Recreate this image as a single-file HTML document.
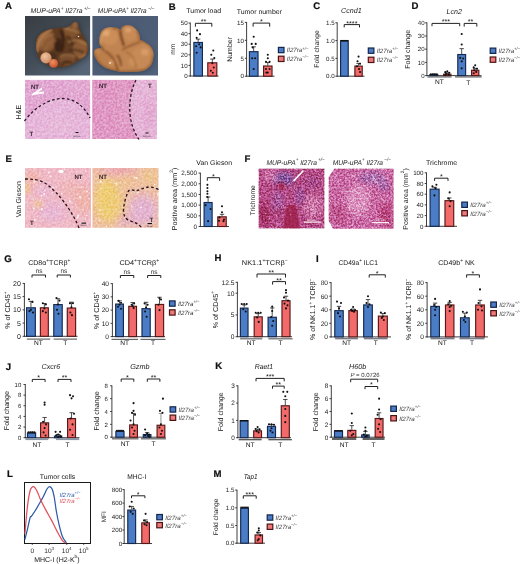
<!DOCTYPE html>
<html><head><meta charset="utf-8"><title>Figure</title>
<style>
html,body{margin:0;padding:0;background:#fff;}
body{width:520px;height:564px;overflow:hidden;}
svg{display:block;}
text{font-family:"Liberation Sans", Arial, Helvetica, sans-serif;text-rendering:geometricPrecision;}
</style></head><body>
<svg width="520" height="564" viewBox="0 0 520 564">
<rect width="520" height="564" fill="#fff"/>

<defs>
<filter id="blur05" x="-10%" y="-10%" width="120%" height="120%"><feGaussianBlur stdDeviation="0.6"/></filter>
<filter id="blur1" x="-20%" y="-20%" width="140%" height="140%"><feGaussianBlur stdDeviation="1.2"/></filter>
<filter id="blur2" x="-30%" y="-30%" width="160%" height="160%"><feGaussianBlur stdDeviation="2.5"/></filter>
<filter id="blur4" x="-50%" y="-50%" width="200%" height="200%"><feGaussianBlur stdDeviation="4"/></filter>
<filter id="speck" x="0" y="0" width="100%" height="100%">
  <feTurbulence type="fractalNoise" baseFrequency="0.45" numOctaves="2" seed="7" result="n"/>
  <feColorMatrix in="n" type="matrix" values="0 0 0 0 1  0 0 0 0 1  0 0 0 0 1  3.2 0 0 0 -1.75"/>
</filter>
<filter id="speck2" x="0" y="0" width="100%" height="100%">
  <feTurbulence type="fractalNoise" baseFrequency="0.28" numOctaves="2" seed="5" result="n"/>
  <feColorMatrix in="n" type="matrix" values="0 0 0 0 1  0 0 0 0 1  0 0 0 0 1  2.6 0 0 0 -1.25"/>
  <feGaussianBlur stdDeviation="0.4"/>
</filter>
<filter id="speckd" x="0" y="0" width="100%" height="100%">
  <feTurbulence type="fractalNoise" baseFrequency="0.5" numOctaves="2" seed="11" result="n"/>
  <feColorMatrix in="n" type="matrix" values="0 0 0 0 0.45  0 0 0 0 0.05  0 0 0 0 0.25  0 3.0 0 0 -1.6"/>
</filter>
<filter id="tex" x="0" y="0" width="100%" height="100%">
  <feTurbulence type="fractalNoise" baseFrequency="0.25" numOctaves="3" seed="4" result="n"/>
  <feColorMatrix in="n" type="matrix" values="0 0 0 0 0  0 0 0 0 0  0 0 0 0 0  0 0 2.0 0 -0.95"/>
</filter>
<filter id="gtex" x="0" y="0" width="100%" height="100%" color-interpolation-filters="sRGB">
  <feTurbulence type="fractalNoise" baseFrequency="0.45" numOctaves="2" seed="2"/>
  <feColorMatrix type="matrix" values="3 0 0 0 -1  3 0 0 0 -1  3 0 0 0 -1  0 0 0 0 1"/>
  <feGaussianBlur stdDeviation="0.3"/>
</filter>
<filter id="gtex2" x="0" y="0" width="100%" height="100%" color-interpolation-filters="sRGB">
  <feTurbulence type="fractalNoise" baseFrequency="0.55" numOctaves="2" seed="8"/>
  <feColorMatrix type="matrix" values="2.4 0 0 0 -0.7  2.4 0 0 0 -0.7  2.4 0 0 0 -0.7  0 0 0 0 1"/>
  <feGaussianBlur stdDeviation="0.45"/>
</filter>
<filter id="gtex3" x="0" y="0" width="100%" height="100%" color-interpolation-filters="sRGB">
  <feTurbulence type="fractalNoise" baseFrequency="0.3" numOctaves="3" seed="12"/>
  <feColorMatrix type="matrix" values="2.5 0 0 0 -0.75  2.5 0 0 0 -0.75  2.5 0 0 0 -0.75  0 0 0 0 1"/>
  <feGaussianBlur stdDeviation="0.4"/>
</filter>
<clipPath id="cA1"><rect x="25" y="16" width="65.2" height="59.6"/></clipPath>
<clipPath id="cA2"><rect x="92.4" y="16" width="65.6" height="59.6"/></clipPath>
<clipPath id="cH1"><rect x="25" y="79.8" width="65.3" height="59.2"/></clipPath>
<clipPath id="cH2"><rect x="92.2" y="79.8" width="64.8" height="59.2"/></clipPath>
<clipPath id="cE1"><rect x="25" y="167.9" width="66" height="59.8"/></clipPath>
<clipPath id="cE2"><rect x="92.4" y="167.9" width="66.1" height="59.8"/></clipPath>
<clipPath id="cF1"><rect x="258.5" y="168.5" width="66" height="60"/></clipPath>
<clipPath id="cF2"><path d="M328.6 177 L334.5 168.6 L393.6 168.6 L393.6 228.8 L333 228.8 L328.6 221 Z"/></clipPath>
<linearGradient id="bg1" x1="0" y1="0" x2="0.8" y2="1"><stop offset="0" stop-color="#393d42"/><stop offset="0.5" stop-color="#424c56"/><stop offset="1" stop-color="#566678"/></linearGradient>
<linearGradient id="bg2" x1="0" y1="0" x2="1" y2="1"><stop offset="0" stop-color="#4a5870"/><stop offset="1" stop-color="#52627c"/></linearGradient>
<radialGradient id="liv1" cx="0.5" cy="0.45" r="0.6"><stop offset="0" stop-color="#7a4a24"/><stop offset="0.8" stop-color="#5e3818"/><stop offset="1" stop-color="#4a2c14"/></radialGradient>
<radialGradient id="liv2" cx="0.45" cy="0.4" r="0.65"><stop offset="0" stop-color="#d9924c"/><stop offset="0.75" stop-color="#c77a38"/><stop offset="1" stop-color="#a85e26"/></radialGradient>
<radialGradient id="nod1" cx="0.4" cy="0.35" r="0.7"><stop offset="0" stop-color="#f0c4a0"/><stop offset="1" stop-color="#c98860"/></radialGradient>
<radialGradient id="nod2" cx="0.4" cy="0.35" r="0.7"><stop offset="0" stop-color="#f09060"/><stop offset="1" stop-color="#c05030"/></radialGradient>
<clipPath id="cL1"><path d="M35.8 45 C36 40 37.5 36 40.2 33.8 C44 31 47 29.6 50.4 29.3 C53 28.4 55 28 56.7 28 C60 27.8 64 27.6 66.9 27.4 C70 25 72.5 22.5 75.1 21.7 C77 21.8 78 23 78.3 24.9 C79.5 27.5 80.5 30 80.8 32.5 C84 36 86.5 40 87.2 43.9 C88.3 46 88.6 47.5 88.5 49 C88 52 86.5 54.5 84.6 56.6 C81.5 59 78.5 61 75.8 62.3 C73 64 70.5 65.5 68.1 66.1 C64.5 67 61 67.4 58 67.4 C52 68 46 65 41 60 C38.5 58 37.5 56 37.7 54.1 C36.3 51 35.7 48 35.8 45 Z"/></clipPath><clipPath id="cL2"><path d="M99.6 43.9 C99 40 99.5 34 101.5 31.2 C103.5 28.5 106 27.6 108.5 27.4 C112 27 115 27.4 117.4 28 C118.8 28.6 119.8 29.2 120.6 30 C121 28.5 121.6 27.5 122.5 26.8 C124 25.8 126 25.1 127.5 25.1 C130 25.2 132.3 26 133.9 27.4 C136.5 29.5 138.3 31.5 139 33.8 C139.8 36 140.2 38 140.2 40.1 C142.5 40.8 144.8 42 146.6 43.3 C148.8 44.5 150.5 46 151.6 47.7 C153 50 153.6 52.6 153.5 55.3 C153.4 58.5 152.8 61.5 151.6 64.2 C150 66.6 147.8 68.6 145.3 69.9 C141.5 71.3 137.5 71.8 133.9 71.8 C129 72 124 72 119.9 71.8 C118 71.5 116.3 71 114.8 70.6 C111 69.8 107.5 68.8 104.7 67.4 C101.5 65.5 99 63 97.1 60.4 C95.5 58 94.3 55.5 93.9 52.8 C94 51 94.8 49.8 95.8 49 C97.5 48.3 100 48.2 102.2 48.4 C101 47 100 45.5 99.6 43.9 Z"/></clipPath></defs>
<g clip-path="url(#cA1)">
<rect x="25" y="16" width="65.5" height="60" fill="url(#bg1)"/>
<path d="M35.8 45 C36 40 37.5 36 40.2 33.8 C44 31 47 29.6 50.4 29.3 C53 28.4 55 28 56.7 28 C60 27.8 64 27.6 66.9 27.4 C70 25 72.5 22.5 75.1 21.7 C77 21.8 78 23 78.3 24.9 C79.5 27.5 80.5 30 80.8 32.5 C84 36 86.5 40 87.2 43.9 C88.3 46 88.6 47.5 88.5 49 C88 52 86.5 54.5 84.6 56.6 C81.5 59 78.5 61 75.8 62.3 C73 64 70.5 65.5 68.1 66.1 C64.5 67 61 67.4 58 67.4 C52 68 46 65 41 60 C38.5 58 37.5 56 37.7 54.1 C36.3 51 35.7 48 35.8 45 Z" fill="#1e1a18" opacity="0.5" filter="url(#blur2)" transform="translate(1 1.5)"/>
<g filter="url(#blur05)"><g clip-path="url(#cL1)">
<rect x="30" y="18" width="62" height="54" fill="#5e3a22"/>
<g filter="url(#blur1)">
<ellipse cx="46" cy="42" rx="9.5" ry="10" fill="#8c5a34"/>
<ellipse cx="71" cy="32" rx="7.5" ry="6.5" fill="#80522e"/>
<ellipse cx="80" cy="49" rx="7.5" ry="8.5" fill="#8a5a36"/>
<ellipse cx="67" cy="60" rx="8" ry="5.5" fill="#7a4e2e"/>
<ellipse cx="58" cy="45" rx="4" ry="7" fill="#3a2414"/>
<ellipse cx="75" cy="25" rx="3" ry="4" fill="#8e6240"/>
<ellipse cx="52" cy="56" rx="5" ry="4" fill="#4a2e1a"/>
</g>
<g filter="url(#blur1)" fill="none">
<path d="M37.5 52 C36.5 42 42 33 52 30" stroke="#b88050" stroke-width="2.4"/>
<path d="M41 46 C42 39 46 35 54 34" stroke="#a87448" stroke-width="1.4"/>
<path d="M45 51 C46 45 50 41 57 41" stroke="#9c6a40" stroke-width="1.2"/>
<path d="M61 30 C64 36 64 44 61 52" stroke="#2a180a" stroke-width="1.8"/>
<path d="M68 42 C74 39 81 40 87 45" stroke="#b4824e" stroke-width="1.7"/>
<path d="M70 51 C74 49 80 50 84 53" stroke="#3a2412" stroke-width="1.3"/>
<path d="M60 57 C64 54 70 54 75 57" stroke="#a87a4c" stroke-width="1.5"/>
<path d="M64 28 C70 30 76 30.5 80 33" stroke="#b08458" stroke-width="1.4"/>
<path d="M62 64 C65 61 68 61 72 63" stroke="#2a180a" stroke-width="1.3"/>
<path d="M67 36 C70 38 72 41 72 45" stroke="#2e1c0e" stroke-width="1.3"/>
<path d="M78 57 C81 58 84 57 86 54" stroke="#b07a48" stroke-width="1.4"/>
</g>
</g></g>
<circle cx="46" cy="57.9" r="5.6" fill="url(#nod1)" filter="url(#blur05)"/>
<circle cx="53.6" cy="63.4" r="4.4" fill="url(#nod2)" filter="url(#blur05)"/>
<circle cx="78.5" cy="36.5" r="0.8" fill="#f4e0c0"/>
</g>
<g clip-path="url(#cA2)">
<rect x="92" y="16" width="66" height="60" fill="url(#bg2)"/>
<path d="M99.6 43.9 C99 40 99.5 34 101.5 31.2 C103.5 28.5 106 27.6 108.5 27.4 C112 27 115 27.4 117.4 28 C118.8 28.6 119.8 29.2 120.6 30 C121 28.5 121.6 27.5 122.5 26.8 C124 25.8 126 25.1 127.5 25.1 C130 25.2 132.3 26 133.9 27.4 C136.5 29.5 138.3 31.5 139 33.8 C139.8 36 140.2 38 140.2 40.1 C142.5 40.8 144.8 42 146.6 43.3 C148.8 44.5 150.5 46 151.6 47.7 C153 50 153.6 52.6 153.5 55.3 C153.4 58.5 152.8 61.5 151.6 64.2 C150 66.6 147.8 68.6 145.3 69.9 C141.5 71.3 137.5 71.8 133.9 71.8 C129 72 124 72 119.9 71.8 C118 71.5 116.3 71 114.8 70.6 C111 69.8 107.5 68.8 104.7 67.4 C101.5 65.5 99 63 97.1 60.4 C95.5 58 94.3 55.5 93.9 52.8 C94 51 94.8 49.8 95.8 49 C97.5 48.3 100 48.2 102.2 48.4 C101 47 100 45.5 99.6 43.9 Z" fill="#283040" opacity="0.5" filter="url(#blur2)" transform="translate(0.5 1.5)"/>
<g filter="url(#blur05)"><g clip-path="url(#cL2)">
<rect x="93" y="20" width="62" height="55" fill="#c08452"/>
<g filter="url(#blur1)">
<ellipse cx="110" cy="37" rx="8" ry="8" fill="#cc8e58"/>
<ellipse cx="130" cy="34" rx="7" ry="7" fill="#c88a56"/>
<ellipse cx="141" cy="58" rx="10" ry="11" fill="#c68a56"/>
<ellipse cx="106" cy="58" rx="9" ry="7" fill="#bc7e4c"/>
<ellipse cx="106" cy="33" rx="3.5" ry="3" fill="#e6ac74" opacity="0.9"/>
<ellipse cx="128" cy="30" rx="3" ry="2.5" fill="#e2a670" opacity="0.8"/>
<ellipse cx="145" cy="52" rx="4" ry="3.5" fill="#dea46e" opacity="0.7"/>
<ellipse cx="112" cy="62" rx="3" ry="2.5" fill="#dca06a" opacity="0.7"/>
<ellipse cx="133" cy="62" rx="5" ry="4" fill="#d09860" opacity="0.6"/>
</g>
<path d="M99.6 43.9 C99 40 99.5 34 101.5 31.2 C103.5 28.5 106 27.6 108.5 27.4 C112 27 115 27.4 117.4 28 C118.8 28.6 119.8 29.2 120.6 30 C121 28.5 121.6 27.5 122.5 26.8 C124 25.8 126 25.1 127.5 25.1 C130 25.2 132.3 26 133.9 27.4 C136.5 29.5 138.3 31.5 139 33.8 C139.8 36 140.2 38 140.2 40.1 C142.5 40.8 144.8 42 146.6 43.3 C148.8 44.5 150.5 46 151.6 47.7 C153 50 153.6 52.6 153.5 55.3 C153.4 58.5 152.8 61.5 151.6 64.2 C150 66.6 147.8 68.6 145.3 69.9 C141.5 71.3 137.5 71.8 133.9 71.8 C129 72 124 72 119.9 71.8 C118 71.5 116.3 71 114.8 70.6 C111 69.8 107.5 68.8 104.7 67.4 C101.5 65.5 99 63 97.1 60.4 C95.5 58 94.3 55.5 93.9 52.8 C94 51 94.8 49.8 95.8 49 C97.5 48.3 100 48.2 102.2 48.4 C101 47 100 45.5 99.6 43.9 Z" fill="none" stroke="#8a5630" stroke-width="2.4" opacity="0.8" filter="url(#blur1)"/>
<g filter="url(#blur1)" fill="none">
<path d="M101 44 C100 36 104 29 112 28" stroke="#e0aa78" stroke-width="1.6"/>
<path d="M123 29 C127 26 133 27 137 31" stroke="#d8a272" stroke-width="1.4"/>
<path d="M95 52 C98 49 102 49 106 50" stroke="#d49c6c" stroke-width="1.3"/>
<path d="M142 44 C148 46 152 50 153 56" stroke="#d09a6a" stroke-width="1.2"/>
<path d="M120 31 C121 36 122 41 124 46" stroke="#5e2e12" stroke-width="1.6"/>
<path d="M101 48.5 C106 51 111 55 114 60 C116 64 117 68 118 71" stroke="#6e3a18" stroke-width="1.3"/>
<path d="M122 50 C128 46 134 44 140 42" stroke="#7e4420" stroke-width="1.2"/>
<path d="M117 55 C120 58 121 62 121 66" stroke="#5e2e12" stroke-width="1.2"/>
<path d="M126 52 C132 54 136 60 136 68" stroke="#9a5a2c" stroke-width="1.0"/>
</g>
</g></g>
<circle cx="110" cy="63" r="0.9" fill="#f8e4c8"/>
</g>
<g clip-path="url(#cH1)">
<rect x="25" y="79.5" width="65.5" height="60" fill="#e2a8d2"/>
<path d="M25 121 C34 108 48 99 62 98.5 C74 98 84 106 90 118 V139 H25 Z" fill="#e6b6da"/>
<g filter="url(#blur4)"><ellipse cx="60" cy="125" rx="14" ry="8" fill="#e8bcd8" opacity="0.7"/><ellipse cx="80" cy="88" rx="10" ry="6" fill="#e6b0d4" opacity="0.6"/></g>
<rect x="25" y="80" width="65" height="59" filter="url(#gtex)" style="mix-blend-mode:overlay" opacity="0.2"/>
<g fill="#fff" opacity="0.3"><circle cx="33.73" cy="130" r="0.53"/><circle cx="41.58" cy="109.23" r="0.43"/><circle cx="67.35" cy="126.53" r="0.33"/><circle cx="26.84" cy="129.31" r="0.43"/><circle cx="74.55" cy="80.12" r="0.43"/><circle cx="71.9" cy="93.5" r="0.58"/><circle cx="83.59" cy="81.8" r="0.31"/><circle cx="60.19" cy="135.41" r="0.41"/><circle cx="39.08" cy="104.9" r="0.31"/><circle cx="39.41" cy="105.84" r="0.45"/><circle cx="40.15" cy="93.62" r="0.37"/><circle cx="54.87" cy="97.1" r="0.31"/><circle cx="79.44" cy="112.83" r="0.49"/><circle cx="37.08" cy="138.56" r="0.56"/><circle cx="32.86" cy="99.63" r="0.52"/><circle cx="71.23" cy="135.25" r="0.43"/><circle cx="78.95" cy="119.55" r="0.39"/><circle cx="63.19" cy="132.07" r="0.55"/><circle cx="57.84" cy="114.75" r="0.31"/><circle cx="40.78" cy="127.05" r="0.42"/><circle cx="36.25" cy="112.38" r="0.51"/><circle cx="68.84" cy="102.11" r="0.43"/><circle cx="58.05" cy="125.93" r="0.46"/><circle cx="50.56" cy="108.89" r="0.31"/><circle cx="27.83" cy="121.5" r="0.59"/><circle cx="63.56" cy="103.22" r="0.35"/><circle cx="57.65" cy="137.94" r="0.53"/><circle cx="60.08" cy="130.76" r="0.37"/><circle cx="58.4" cy="136.2" r="0.47"/><circle cx="54.84" cy="95.89" r="0.46"/><circle cx="87.21" cy="80.34" r="0.54"/><circle cx="78.33" cy="132.28" r="0.52"/><circle cx="77.59" cy="110.6" r="0.47"/><circle cx="52.7" cy="83.31" r="0.56"/><circle cx="62.05" cy="91.79" r="0.45"/><circle cx="56.52" cy="101.05" r="0.4"/><circle cx="60" cy="116.79" r="0.48"/><circle cx="54.78" cy="81.65" r="0.37"/><circle cx="36.52" cy="114.48" r="0.56"/><circle cx="76.9" cy="127.03" r="0.54"/><circle cx="41.59" cy="129.66" r="0.5"/><circle cx="30.41" cy="80.98" r="0.3"/><circle cx="74.11" cy="94.72" r="0.33"/><circle cx="65.61" cy="100.32" r="0.32"/><circle cx="35.38" cy="111.12" r="0.35"/><circle cx="42.74" cy="121.98" r="0.44"/><circle cx="45.93" cy="107.95" r="0.31"/><circle cx="50.13" cy="104.83" r="0.36"/><circle cx="32.07" cy="133.09" r="0.45"/><circle cx="38.59" cy="115.73" r="0.55"/></g>
<path d="M32 95 L42 88.5 M33.5 94 L44 92.5" stroke="#fff" stroke-width="1.8" opacity="0.95"/>
</g>
<path d="M24.5 121 C34 108 48 99 62 98.5 C74 98 84 106 90 118" fill="none" stroke="#2a1624" stroke-width="1.3" stroke-dasharray="2.7 2.3"/>
<text x="31" y="88.8" font-size="6" text-anchor="start" fill="#241420" stroke="#241420" stroke-width="0.2">NT</text>
<text x="29.5" y="135.5" font-size="6" text-anchor="start" fill="#241420" stroke="#241420" stroke-width="0.2">T</text>
<path d="M75.5 132.5 h3" stroke="#111" stroke-width="1"/>
<text x="77" y="136.5" font-size="2.2" text-anchor="middle" fill="#222">100 µm</text>
<g clip-path="url(#cH2)">
<rect x="92" y="79.5" width="65" height="60" fill="#e098c4"/>
<path d="M136 80 C131 90 129 102 130 114 C131 124 134 132 139 139 H157 V80 Z" fill="#e6b6d8"/>
<g filter="url(#blur4)"><ellipse cx="125" cy="110" rx="6" ry="22" fill="#e2a6cc" opacity="0.6"/><ellipse cx="149" cy="115" rx="3" ry="16" fill="#dc96c4" opacity="0.7"/></g>
<rect x="93" y="80" width="64" height="59" filter="url(#gtex)" style="mix-blend-mode:overlay" opacity="0.2"/>
<g fill="#fff" opacity="0.3"><circle cx="154.19" cy="135.92" r="0.32"/><circle cx="98.43" cy="129.29" r="0.52"/><circle cx="135.86" cy="98.18" r="0.48"/><circle cx="131.84" cy="114.29" r="0.35"/><circle cx="120.56" cy="103.22" r="0.52"/><circle cx="156.67" cy="136.01" r="0.46"/><circle cx="121.47" cy="95.83" r="0.31"/><circle cx="94.76" cy="107.43" r="0.4"/><circle cx="117.32" cy="132.62" r="0.46"/><circle cx="128.87" cy="93.93" r="0.31"/><circle cx="113.81" cy="88.07" r="0.45"/><circle cx="156.92" cy="119.79" r="0.35"/><circle cx="150.19" cy="127.01" r="0.52"/><circle cx="151.02" cy="125.01" r="0.54"/><circle cx="115.64" cy="137.88" r="0.59"/><circle cx="103.32" cy="124.49" r="0.51"/><circle cx="122.53" cy="111.29" r="0.45"/><circle cx="152.19" cy="109.55" r="0.55"/><circle cx="115.65" cy="132.09" r="0.57"/><circle cx="122.5" cy="113.49" r="0.58"/><circle cx="139.32" cy="108.71" r="0.37"/><circle cx="113.78" cy="121.27" r="0.35"/><circle cx="151.11" cy="95.82" r="0.57"/><circle cx="112.81" cy="136.48" r="0.51"/><circle cx="125.27" cy="110.55" r="0.5"/><circle cx="130.63" cy="98.4" r="0.36"/><circle cx="125.76" cy="135.12" r="0.49"/><circle cx="97.82" cy="128.4" r="0.52"/><circle cx="151.09" cy="91.29" r="0.52"/><circle cx="96.76" cy="118.52" r="0.38"/><circle cx="107.5" cy="131.65" r="0.33"/><circle cx="126.43" cy="130.38" r="0.37"/><circle cx="106.47" cy="131.95" r="0.43"/><circle cx="138.89" cy="81.88" r="0.41"/><circle cx="104" cy="119.69" r="0.32"/><circle cx="154.09" cy="81.5" r="0.52"/><circle cx="94.35" cy="95.09" r="0.54"/><circle cx="103.06" cy="90.84" r="0.51"/><circle cx="117.68" cy="82.55" r="0.6"/><circle cx="102.69" cy="82.14" r="0.4"/></g>
</g>
<path d="M136 80 C131 90 129 102 130 114 C131 124 134 132 139 139.5" fill="none" stroke="#2a1624" stroke-width="1.3" stroke-dasharray="2.7 2.3"/>
<text x="99" y="88.2" font-size="6" text-anchor="start" fill="#241420" stroke="#241420" stroke-width="0.2">NT</text>
<text x="148" y="88.2" font-size="6" text-anchor="start" fill="#241420" stroke="#241420" stroke-width="0.2">T</text>
<path d="M145.5 133 h3" stroke="#111" stroke-width="1"/>
<text x="147" y="137" font-size="2.2" text-anchor="middle" fill="#222">100 µm</text>
<g clip-path="url(#cE1)">
<rect x="25" y="167.5" width="66.5" height="60.5" fill="#f0bac6"/>
<g filter="url(#blur4)">
<ellipse cx="32" cy="178" rx="8" ry="6" fill="#f0b090" opacity="0.7"/>
<ellipse cx="84" cy="200" rx="7" ry="14" fill="#f0b098" opacity="0.7"/>
<ellipse cx="70" cy="190" rx="8" ry="8" fill="#eeb0a0" opacity="0.5"/>
<ellipse cx="52" cy="212" rx="14" ry="10" fill="#e0b4e0" opacity="0.5"/>
<ellipse cx="44" cy="190" rx="8" ry="7" fill="#e0b4e0" opacity="0.45"/>
</g>
<g filter="url(#blur2)">
<ellipse cx="38" cy="204" rx="5" ry="3.5" fill="#f2d080" opacity="0.6"/>
<ellipse cx="26.5" cy="189" rx="2.5" ry="5" fill="#f2c870" opacity="0.9"/>
</g>
<rect x="25" y="168.4" width="65" height="59.3" filter="url(#gtex)" style="mix-blend-mode:overlay" opacity="0.2"/>
<g fill="#fff" opacity="0.55"><circle cx="40.47" cy="200.67" r="0.46"/><circle cx="64.25" cy="205.51" r="0.37"/><circle cx="25.86" cy="218.06" r="0.43"/><circle cx="40.23" cy="227.44" r="0.49"/><circle cx="79.37" cy="196.65" r="0.54"/><circle cx="34.79" cy="206.05" r="0.61"/><circle cx="59.01" cy="212.36" r="0.55"/><circle cx="29.16" cy="213.36" r="0.53"/><circle cx="44.58" cy="170.24" r="0.61"/><circle cx="55.73" cy="211.03" r="0.61"/><circle cx="71.42" cy="223.02" r="0.47"/><circle cx="77.06" cy="194.77" r="0.63"/><circle cx="82.13" cy="174.18" r="0.39"/><circle cx="39.1" cy="225.65" r="0.48"/><circle cx="65.73" cy="186.25" r="0.5"/><circle cx="50.08" cy="189.21" r="0.53"/><circle cx="62.98" cy="222.02" r="0.55"/><circle cx="85.38" cy="219.18" r="0.65"/><circle cx="68.63" cy="178.07" r="0.61"/><circle cx="87.7" cy="222.05" r="0.52"/><circle cx="71.4" cy="180.92" r="0.6"/><circle cx="62.28" cy="185.3" r="0.37"/><circle cx="80.51" cy="227.1" r="0.38"/><circle cx="77.04" cy="192.74" r="0.4"/><circle cx="44.1" cy="213.99" r="0.61"/><circle cx="27.87" cy="204.84" r="0.36"/><circle cx="71.7" cy="188.03" r="0.61"/><circle cx="88.74" cy="198.37" r="0.65"/><circle cx="45.13" cy="172.96" r="0.53"/><circle cx="27.04" cy="180.1" r="0.47"/><circle cx="64.68" cy="177.66" r="0.36"/><circle cx="81.41" cy="187.01" r="0.64"/><circle cx="83.28" cy="190.8" r="0.49"/><circle cx="58.8" cy="206.58" r="0.53"/><circle cx="61.35" cy="205.17" r="0.63"/><circle cx="57.96" cy="193.97" r="0.57"/><circle cx="40.45" cy="186.25" r="0.64"/><circle cx="58.87" cy="200.92" r="0.35"/><circle cx="51.99" cy="202.79" r="0.36"/><circle cx="65.03" cy="205.89" r="0.37"/><circle cx="65.78" cy="196.05" r="0.55"/><circle cx="47.92" cy="210.32" r="0.57"/><circle cx="26.44" cy="171.99" r="0.55"/><circle cx="87.61" cy="183.29" r="0.49"/><circle cx="63.52" cy="187.38" r="0.46"/><circle cx="45.32" cy="190.29" r="0.53"/><circle cx="44.53" cy="190.77" r="0.58"/><circle cx="26.75" cy="202.16" r="0.57"/><circle cx="45.15" cy="181.6" r="0.59"/><circle cx="40.52" cy="179.51" r="0.48"/><circle cx="70.37" cy="174.44" r="0.45"/><circle cx="46.69" cy="217.83" r="0.48"/><circle cx="80.61" cy="178.44" r="0.45"/><circle cx="67.27" cy="220.87" r="0.49"/><circle cx="39.63" cy="175.57" r="0.51"/><circle cx="37.4" cy="216.24" r="0.6"/><circle cx="36.93" cy="184.92" r="0.59"/><circle cx="66.73" cy="216.21" r="0.45"/><circle cx="33.43" cy="185.71" r="0.59"/><circle cx="42.63" cy="188.94" r="0.48"/><circle cx="52.29" cy="192.68" r="0.63"/><circle cx="35.14" cy="168.68" r="0.63"/><circle cx="82.2" cy="226.92" r="0.48"/><circle cx="86.76" cy="223.39" r="0.42"/><circle cx="73.46" cy="218.02" r="0.55"/><circle cx="58.74" cy="185.54" r="0.45"/><circle cx="39.79" cy="172.44" r="0.53"/><circle cx="43.66" cy="216.44" r="0.36"/><circle cx="83.73" cy="209.54" r="0.63"/><circle cx="83.28" cy="221.75" r="0.52"/></g>
<g fill="#fff" opacity="0.85"><circle cx="41.84" cy="209.04" r="0.94"/><circle cx="80.21" cy="179.41" r="0.72"/><circle cx="34.57" cy="181.75" r="0.97"/><circle cx="33.46" cy="199.91" r="0.71"/><circle cx="44.15" cy="193.99" r="1.02"/><circle cx="64.55" cy="169.26" r="0.74"/><circle cx="34.54" cy="220.07" r="1"/><circle cx="77.39" cy="217.4" r="0.97"/><circle cx="86.71" cy="215.47" r="0.73"/><circle cx="80.25" cy="197.27" r="0.98"/><circle cx="61.67" cy="193.87" r="0.78"/><circle cx="52.94" cy="187.01" r="0.66"/><circle cx="78.28" cy="215.74" r="1.09"/><circle cx="69.91" cy="201.27" r="0.97"/><circle cx="33.77" cy="208.54" r="0.82"/><circle cx="36.48" cy="180.42" r="0.86"/><circle cx="41.47" cy="195.65" r="0.9"/><circle cx="50.72" cy="176.16" r="0.85"/><circle cx="40.3" cy="182.38" r="0.7"/><circle cx="48.82" cy="172.75" r="0.93"/><circle cx="86.99" cy="191.51" r="0.96"/><circle cx="85.64" cy="170.96" r="0.67"/></g>
<ellipse cx="61" cy="171.5" rx="2.6" ry="1.7" fill="#fff"/>
</g>
<path d="M25 179 C33 179 40 180 45 183 C52 188 58 194 64 202 C70 210 75 218 79 228" fill="none" stroke="#2a1420" stroke-width="1.35" stroke-dasharray="2.7 2.3"/>
<text x="74.5" y="178.6" font-size="6" text-anchor="start" fill="#241420" stroke="#241420" stroke-width="0.2">NT</text>
<text x="30" y="224.5" font-size="6" text-anchor="start" fill="#241420" stroke="#241420" stroke-width="0.2">T</text>
<rect x="81.5" y="222.6" width="4.5" height="1.1" fill="#111"/>
<text x="83.5" y="226.3" font-size="2.2" text-anchor="middle" fill="#222">50 µm</text>
<g clip-path="url(#cE2)">
<rect x="92" y="167.5" width="67" height="60.5" fill="#eec0a4"/>
<g filter="url(#blur4)">
<ellipse cx="107" cy="200" rx="12" ry="22" fill="#f0d070" opacity="0.9"/>
<ellipse cx="114" cy="205" rx="10" ry="18" fill="#f0cc78" opacity="0.7"/>
<ellipse cx="126" cy="180" rx="8" ry="6" fill="#eec880" opacity="0.6"/>
<ellipse cx="118" cy="170" rx="20" ry="5" fill="#eca2b8" opacity="0.85"/>
<ellipse cx="150" cy="177" rx="9" ry="7" fill="#eec888" opacity="0.8"/>
<ellipse cx="143" cy="210" rx="15" ry="16" fill="#e2b2d8" opacity="0.85"/>
<ellipse cx="125" cy="222" rx="8" ry="6" fill="#e0aad0" opacity="0.7"/>
</g>
<rect x="93" y="168.4" width="65.5" height="59.3" filter="url(#gtex)" style="mix-blend-mode:overlay" opacity="0.2"/>
<g fill="#fff" opacity="0.55"><circle cx="108.46" cy="174.52" r="0.47"/><circle cx="103.15" cy="172.34" r="0.47"/><circle cx="153.13" cy="215.87" r="0.58"/><circle cx="107.54" cy="200.23" r="0.43"/><circle cx="104.31" cy="174.7" r="0.41"/><circle cx="153.75" cy="217.55" r="0.59"/><circle cx="145.43" cy="179.87" r="0.44"/><circle cx="134.07" cy="211.8" r="0.61"/><circle cx="150.64" cy="173.54" r="0.53"/><circle cx="137" cy="198.4" r="0.4"/><circle cx="124.02" cy="173.7" r="0.63"/><circle cx="149.69" cy="200.87" r="0.44"/><circle cx="152.53" cy="202.34" r="0.61"/><circle cx="148.55" cy="198.55" r="0.47"/><circle cx="132.23" cy="193.96" r="0.4"/><circle cx="112.98" cy="216.59" r="0.36"/><circle cx="96.03" cy="205.54" r="0.43"/><circle cx="128.02" cy="196.34" r="0.45"/><circle cx="158.32" cy="180" r="0.47"/><circle cx="106.27" cy="205.92" r="0.43"/><circle cx="116.31" cy="212.69" r="0.45"/><circle cx="129.58" cy="222.03" r="0.38"/><circle cx="97.04" cy="181.97" r="0.58"/><circle cx="133.31" cy="182.48" r="0.45"/><circle cx="104.63" cy="195.62" r="0.36"/><circle cx="138.67" cy="221.53" r="0.64"/><circle cx="141.13" cy="225.32" r="0.36"/><circle cx="111.93" cy="225.68" r="0.58"/><circle cx="119.88" cy="224.34" r="0.54"/><circle cx="146.57" cy="185.8" r="0.41"/><circle cx="122.09" cy="176.49" r="0.46"/><circle cx="156" cy="188.05" r="0.35"/><circle cx="95.93" cy="178.46" r="0.59"/><circle cx="116.76" cy="185.62" r="0.38"/><circle cx="157.3" cy="193.54" r="0.41"/><circle cx="96.89" cy="171.68" r="0.4"/><circle cx="137.33" cy="177.27" r="0.36"/><circle cx="125.14" cy="183.17" r="0.65"/><circle cx="101.01" cy="199.78" r="0.58"/><circle cx="119.81" cy="226.97" r="0.49"/><circle cx="108.84" cy="192.75" r="0.36"/><circle cx="120.59" cy="183.14" r="0.62"/><circle cx="147.43" cy="197.97" r="0.36"/><circle cx="109.66" cy="182.77" r="0.41"/><circle cx="108.16" cy="219.97" r="0.39"/><circle cx="96.36" cy="223.43" r="0.52"/><circle cx="157.88" cy="192.3" r="0.62"/><circle cx="135.84" cy="215.3" r="0.57"/><circle cx="125.38" cy="173.91" r="0.41"/><circle cx="150.23" cy="221.76" r="0.63"/></g>
<g fill="#fff" opacity="0.85"><circle cx="100" cy="210.06" r="0.93"/><circle cx="154.59" cy="184.48" r="0.73"/><circle cx="141.08" cy="207.45" r="0.75"/><circle cx="137.82" cy="191.92" r="0.99"/><circle cx="100.76" cy="181.64" r="1.05"/><circle cx="116.45" cy="183.84" r="1"/><circle cx="134.37" cy="177.28" r="0.88"/><circle cx="136.49" cy="178.18" r="0.93"/><circle cx="101.06" cy="188.39" r="0.64"/><circle cx="106.39" cy="226.4" r="0.8"/><circle cx="157.87" cy="194.41" r="0.9"/><circle cx="150.15" cy="209.13" r="0.66"/><circle cx="131.59" cy="205.98" r="0.69"/><circle cx="99.2" cy="220.28" r="0.86"/></g>
</g>
<path d="M158.5 189.5 C154 187 149 186.5 146 187.5 C142 188.5 139 190 136 191 C133 190 130 189 128.5 191 C126 196 124 203 123.5 210 C123.5 215 125 218 128 220 C133 222 138 223 142 228" fill="none" stroke="#2a1420" stroke-width="1.35" stroke-dasharray="2.7 2.3"/>
<text x="99" y="178.6" font-size="6" text-anchor="start" fill="#241420" stroke="#241420" stroke-width="0.2">NT</text>
<text x="149.5" y="222" font-size="6" text-anchor="start" fill="#241420" stroke="#241420" stroke-width="0.2">T</text>
<rect x="147.5" y="223" width="4.5" height="1.1" fill="#111"/>
<text x="149.8" y="226.6" font-size="2.2" text-anchor="middle" fill="#222">50 µm</text>
<g clip-path="url(#cF1)">
<rect x="258.5" y="168.5" width="66" height="60" fill="#b44c86"/>
<g filter="url(#blur2)">
<ellipse cx="283" cy="179" rx="11" ry="7" fill="#7c5ca8" opacity="0.8"/>
<ellipse cx="300" cy="196" rx="5" ry="9" fill="#8a5aa8" opacity="0.5"/>
<ellipse cx="278" cy="202" rx="5" ry="12" fill="#9c66b0" opacity="0.55"/>
<ellipse cx="279" cy="212" rx="3" ry="4" fill="#9a2048" opacity="0.7"/>
<ellipse cx="281" cy="186" rx="4" ry="4" fill="#a82850" opacity="0.8"/>
<ellipse cx="313" cy="206" rx="9" ry="12" fill="#dc94c0" opacity="0.6"/>
<ellipse cx="265" cy="214" rx="5" ry="12" fill="#9c2456" opacity="0.8"/>
<ellipse cx="312" cy="182" rx="8" ry="6" fill="#9c4c90" opacity="0.55"/>
<ellipse cx="270" cy="176" rx="8" ry="6" fill="#dc8cbc" opacity="0.6"/>
</g>
<rect x="258.5" y="168.5" width="66" height="60" filter="url(#gtex2)" style="mix-blend-mode:overlay" opacity="0.48"/>
<path d="M286.5 207 C289 204 294 204 296.5 207 L300 229 L283 229 Z" fill="#9c1c44" opacity="0.75" filter="url(#blur05)"/>
<ellipse cx="281.5" cy="186" rx="3" ry="3" fill="#a02048" opacity="0.6" filter="url(#blur05)"/>
<g fill="#f4d4e8" opacity="0.6"><circle cx="299.61" cy="213.01" r="0.62"/><circle cx="320.7" cy="212.89" r="0.67"/><circle cx="260.41" cy="196.44" r="0.68"/><circle cx="301.33" cy="222.55" r="0.35"/><circle cx="289.46" cy="183.29" r="0.52"/><circle cx="296.38" cy="169.29" r="0.39"/><circle cx="276.95" cy="223.48" r="0.61"/><circle cx="269.03" cy="216.33" r="0.36"/><circle cx="299.25" cy="176.1" r="0.3"/><circle cx="316.01" cy="181.07" r="0.39"/><circle cx="323.34" cy="220.84" r="0.42"/><circle cx="321.96" cy="200.85" r="0.57"/><circle cx="272.02" cy="224.96" r="0.58"/><circle cx="322.29" cy="222.12" r="0.42"/><circle cx="282.34" cy="178.46" r="0.36"/><circle cx="262.8" cy="186.58" r="0.54"/><circle cx="258.72" cy="209.18" r="0.44"/><circle cx="278.96" cy="217.61" r="0.49"/><circle cx="279.34" cy="197.37" r="0.58"/><circle cx="262.26" cy="227.01" r="0.31"/><circle cx="307.99" cy="219.19" r="0.31"/><circle cx="310.49" cy="190.47" r="0.53"/><circle cx="259.1" cy="171.3" r="0.37"/><circle cx="321.54" cy="180.29" r="0.6"/><circle cx="319.86" cy="225.02" r="0.44"/><circle cx="281.92" cy="199.98" r="0.61"/><circle cx="265.63" cy="213.4" r="0.62"/><circle cx="315.24" cy="170.7" r="0.68"/><circle cx="264.52" cy="188.94" r="0.54"/><circle cx="319.09" cy="188.9" r="0.67"/><circle cx="294.48" cy="187.25" r="0.43"/><circle cx="270.21" cy="173.19" r="0.36"/><circle cx="303.99" cy="228.3" r="0.36"/><circle cx="261.7" cy="227.7" r="0.51"/><circle cx="285.29" cy="182.74" r="0.54"/><circle cx="313.04" cy="195.84" r="0.47"/><circle cx="262.18" cy="223.46" r="0.31"/><circle cx="291.08" cy="218.81" r="0.35"/><circle cx="306.79" cy="225.49" r="0.55"/><circle cx="310.51" cy="174.9" r="0.47"/><circle cx="268.35" cy="219.18" r="0.42"/><circle cx="288.41" cy="228.46" r="0.64"/><circle cx="322.92" cy="195.71" r="0.5"/><circle cx="306.65" cy="197.24" r="0.42"/><circle cx="285.15" cy="177.29" r="0.45"/><circle cx="323.73" cy="226.09" r="0.55"/><circle cx="291.46" cy="188.81" r="0.34"/><circle cx="276.47" cy="215.42" r="0.65"/><circle cx="282.35" cy="215.66" r="0.61"/><circle cx="304.34" cy="208.34" r="0.6"/><circle cx="282.49" cy="210.77" r="0.41"/><circle cx="290.56" cy="214.68" r="0.58"/><circle cx="277.89" cy="225.23" r="0.56"/><circle cx="296.82" cy="169.19" r="0.52"/><circle cx="275.05" cy="208.8" r="0.49"/><circle cx="312.4" cy="207.35" r="0.62"/><circle cx="281.46" cy="207.14" r="0.6"/><circle cx="313.16" cy="189.5" r="0.64"/><circle cx="315.91" cy="209.8" r="0.69"/><circle cx="321.63" cy="199.59" r="0.51"/><circle cx="269.47" cy="218.7" r="0.67"/><circle cx="290" cy="209.99" r="0.59"/><circle cx="306.7" cy="178.81" r="0.61"/><circle cx="296.84" cy="208.43" r="0.47"/><circle cx="299.67" cy="214.98" r="0.55"/><circle cx="306.05" cy="170.16" r="0.36"/><circle cx="287.61" cy="207.51" r="0.39"/><circle cx="303.77" cy="206.35" r="0.32"/><circle cx="289.62" cy="182.07" r="0.32"/><circle cx="267.31" cy="187.54" r="0.37"/><circle cx="271.26" cy="170.64" r="0.49"/><circle cx="283.6" cy="205.21" r="0.54"/><circle cx="274.2" cy="222.69" r="0.3"/><circle cx="285.25" cy="185.21" r="0.46"/><circle cx="266.09" cy="218.38" r="0.45"/><circle cx="260.88" cy="205.31" r="0.34"/><circle cx="294.48" cy="188.86" r="0.53"/><circle cx="321.75" cy="217.61" r="0.47"/><circle cx="312.16" cy="207.04" r="0.45"/><circle cx="267.88" cy="204.26" r="0.53"/><circle cx="321.68" cy="226.58" r="0.54"/><circle cx="281.67" cy="222.11" r="0.3"/><circle cx="265.62" cy="202.45" r="0.55"/><circle cx="267.79" cy="206.27" r="0.66"/><circle cx="283.31" cy="194.4" r="0.39"/><circle cx="277.74" cy="226.85" r="0.45"/><circle cx="321.94" cy="223.32" r="0.54"/><circle cx="275.65" cy="227.36" r="0.5"/><circle cx="285.92" cy="187.65" r="0.69"/><circle cx="290.96" cy="185.68" r="0.49"/></g>
<path d="M293.5 181 L303.5 170.5" stroke="#fff" stroke-width="1.5"/>
</g>
<rect x="304" y="221.5" width="17" height="1.2" fill="#fff" opacity="0.9"/>
<text x="311" y="220.5" font-size="2.6" text-anchor="middle" fill="#fff">100 µm</text>
<g clip-path="url(#cF2)">
<rect x="328.5" y="168.5" width="65.7" height="60.5" fill="#c868a2"/>
<g filter="url(#blur2)">
<ellipse cx="358" cy="200" rx="12" ry="16" fill="#e0a0c8" opacity="0.7"/>
<ellipse cx="386" cy="215" rx="8" ry="12" fill="#b43c74" opacity="0.7"/>
<ellipse cx="338" cy="214" rx="8" ry="10" fill="#b4447a" opacity="0.6"/>
<ellipse cx="372" cy="178" rx="14" ry="6" fill="#9070b4" opacity="0.5"/>
<ellipse cx="384" cy="186" rx="5" ry="5" fill="#8068b0" opacity="0.5"/>
</g>
<rect x="328.5" y="168.5" width="65.7" height="60.5" filter="url(#gtex2)" style="mix-blend-mode:overlay" opacity="0.48"/>
<g fill="#f6dcec" opacity="0.7"><circle cx="380.62" cy="218.23" r="0.52"/><circle cx="345.69" cy="168.53" r="0.6"/><circle cx="359.4" cy="214.46" r="0.47"/><circle cx="379.1" cy="185" r="0.66"/><circle cx="376.45" cy="193.55" r="0.54"/><circle cx="373.31" cy="180.18" r="0.55"/><circle cx="381.4" cy="184.56" r="0.66"/><circle cx="373.55" cy="219.58" r="0.45"/><circle cx="334.62" cy="216.92" r="0.66"/><circle cx="357.75" cy="174.17" r="0.39"/><circle cx="370.21" cy="186.12" r="0.73"/><circle cx="367.17" cy="180.65" r="0.59"/><circle cx="352.18" cy="224.93" r="0.71"/><circle cx="362.31" cy="207.5" r="0.61"/><circle cx="381.42" cy="227.57" r="0.31"/><circle cx="352.24" cy="204.91" r="0.44"/><circle cx="367.21" cy="173.93" r="0.7"/><circle cx="363.01" cy="175.57" r="0.6"/><circle cx="349.02" cy="180.37" r="0.52"/><circle cx="337.57" cy="181.2" r="0.69"/><circle cx="374.37" cy="169.26" r="0.65"/><circle cx="329.62" cy="188.64" r="0.71"/><circle cx="369.25" cy="187.02" r="0.47"/><circle cx="354.07" cy="176.17" r="0.75"/><circle cx="332.04" cy="194.08" r="0.64"/><circle cx="354.63" cy="227.85" r="0.41"/><circle cx="392.84" cy="222.48" r="0.6"/><circle cx="386.94" cy="195.56" r="0.67"/><circle cx="380.8" cy="199.76" r="0.51"/><circle cx="374.86" cy="193.25" r="0.34"/><circle cx="377.55" cy="184.58" r="0.52"/><circle cx="380.01" cy="178.91" r="0.31"/><circle cx="336.61" cy="204.16" r="0.46"/><circle cx="345.34" cy="195.82" r="0.72"/><circle cx="345.24" cy="193.34" r="0.7"/><circle cx="368.72" cy="184.71" r="0.51"/><circle cx="359.94" cy="177.1" r="0.47"/><circle cx="348.58" cy="217.19" r="0.45"/><circle cx="371.81" cy="227.23" r="0.72"/><circle cx="353.21" cy="204.98" r="0.44"/><circle cx="354.67" cy="198.02" r="0.66"/><circle cx="390.04" cy="186.09" r="0.3"/><circle cx="358.02" cy="171.95" r="0.31"/><circle cx="379.32" cy="175.28" r="0.62"/><circle cx="352.28" cy="225.28" r="0.68"/><circle cx="332.59" cy="180.15" r="0.73"/><circle cx="368.8" cy="194.04" r="0.65"/><circle cx="381.95" cy="198.25" r="0.51"/><circle cx="335.08" cy="190.4" r="0.37"/><circle cx="369.6" cy="205.2" r="0.36"/><circle cx="369.76" cy="174.39" r="0.35"/><circle cx="370.91" cy="196.49" r="0.7"/><circle cx="369.84" cy="210.93" r="0.36"/><circle cx="383.21" cy="173.55" r="0.58"/><circle cx="388.38" cy="223.42" r="0.7"/><circle cx="358.2" cy="210.47" r="0.66"/><circle cx="337.51" cy="225.58" r="0.71"/><circle cx="357.47" cy="215.6" r="0.5"/><circle cx="346.66" cy="211.6" r="0.33"/><circle cx="381.07" cy="227.67" r="0.43"/><circle cx="390.24" cy="173.56" r="0.69"/><circle cx="346.88" cy="226.96" r="0.49"/><circle cx="389.09" cy="170.43" r="0.34"/><circle cx="382.14" cy="207.13" r="0.54"/><circle cx="330.65" cy="178.98" r="0.47"/><circle cx="331.92" cy="228.58" r="0.64"/><circle cx="390.9" cy="210.89" r="0.45"/><circle cx="333.6" cy="212.76" r="0.35"/><circle cx="364.45" cy="196.58" r="0.52"/><circle cx="333.44" cy="172.98" r="0.53"/><circle cx="330.5" cy="200.29" r="0.37"/><circle cx="347.01" cy="177.64" r="0.56"/><circle cx="354.01" cy="182" r="0.4"/><circle cx="365.56" cy="223.59" r="0.49"/><circle cx="339.22" cy="187.65" r="0.41"/><circle cx="366.1" cy="216.08" r="0.56"/><circle cx="340.86" cy="188.18" r="0.47"/><circle cx="357.47" cy="192.55" r="0.75"/><circle cx="364.7" cy="208.56" r="0.62"/><circle cx="370.89" cy="217.22" r="0.47"/><circle cx="372.29" cy="227.34" r="0.37"/><circle cx="369.59" cy="191.77" r="0.33"/><circle cx="331.12" cy="214.42" r="0.35"/><circle cx="375.22" cy="174.56" r="0.47"/><circle cx="330.61" cy="201.34" r="0.65"/><circle cx="343.32" cy="202.7" r="0.72"/><circle cx="347.78" cy="197" r="0.63"/><circle cx="385.28" cy="178.7" r="0.6"/><circle cx="336.39" cy="175.29" r="0.74"/><circle cx="331.79" cy="224.15" r="0.64"/><circle cx="372.91" cy="212.63" r="0.59"/><circle cx="347.36" cy="195.32" r="0.39"/><circle cx="384.95" cy="215.62" r="0.65"/><circle cx="342.56" cy="204.33" r="0.41"/><circle cx="380.44" cy="213.56" r="0.75"/><circle cx="375.03" cy="209.88" r="0.65"/><circle cx="334.65" cy="204.52" r="0.31"/><circle cx="352.62" cy="175.59" r="0.73"/><circle cx="330.34" cy="224.24" r="0.73"/><circle cx="357.12" cy="218.86" r="0.32"/><circle cx="337.66" cy="169.09" r="0.33"/><circle cx="328.67" cy="218.61" r="0.34"/><circle cx="367.31" cy="185.03" r="0.36"/><circle cx="356.04" cy="179.5" r="0.74"/><circle cx="353.72" cy="204.43" r="0.55"/><circle cx="369.69" cy="197.57" r="0.42"/><circle cx="337.49" cy="222.23" r="0.39"/><circle cx="357.96" cy="217.41" r="0.56"/><circle cx="390.79" cy="217.48" r="0.53"/><circle cx="336.38" cy="204.36" r="0.51"/><circle cx="385.12" cy="200.61" r="0.61"/><circle cx="381.82" cy="196.96" r="0.68"/><circle cx="387.59" cy="177.84" r="0.71"/><circle cx="385.64" cy="220.23" r="0.45"/><circle cx="345.04" cy="176.54" r="0.47"/><circle cx="384.68" cy="190.45" r="0.3"/><circle cx="348.53" cy="173.49" r="0.58"/><circle cx="378.97" cy="224.56" r="0.34"/><circle cx="353.49" cy="176.11" r="0.71"/><circle cx="383.49" cy="199.95" r="0.73"/><circle cx="362.68" cy="215.47" r="0.52"/><circle cx="352.43" cy="228.66" r="0.68"/><circle cx="367.37" cy="220.97" r="0.59"/><circle cx="380.91" cy="172.54" r="0.36"/><circle cx="335.69" cy="204.99" r="0.62"/><circle cx="338.69" cy="199.06" r="0.35"/><circle cx="373.67" cy="215.63" r="0.34"/><circle cx="392.89" cy="208.73" r="0.36"/><circle cx="351.56" cy="178.07" r="0.63"/><circle cx="388.73" cy="179.1" r="0.38"/><circle cx="369.82" cy="220.5" r="0.63"/><circle cx="358.58" cy="175.19" r="0.58"/><circle cx="358.43" cy="217.13" r="0.56"/><circle cx="376.72" cy="227.25" r="0.58"/><circle cx="388.4" cy="185.07" r="0.3"/><circle cx="386.47" cy="170.31" r="0.75"/><circle cx="358.44" cy="172.21" r="0.42"/><circle cx="375.89" cy="191.74" r="0.58"/><circle cx="335.2" cy="219.06" r="0.47"/><circle cx="383.21" cy="177.41" r="0.6"/><circle cx="359.31" cy="192.97" r="0.31"/><circle cx="363.43" cy="219.2" r="0.35"/><circle cx="357.79" cy="169.25" r="0.75"/><circle cx="392.2" cy="209.54" r="0.52"/><circle cx="333.12" cy="175.82" r="0.62"/><circle cx="380.7" cy="228.34" r="0.69"/><circle cx="357.27" cy="183.95" r="0.54"/><circle cx="351.23" cy="201.46" r="0.7"/><circle cx="358.26" cy="227.86" r="0.62"/><circle cx="331.51" cy="213.69" r="0.6"/><circle cx="369.37" cy="168.7" r="0.7"/><circle cx="361.04" cy="200.98" r="0.38"/><circle cx="330.83" cy="169.34" r="0.39"/><circle cx="348.48" cy="177.82" r="0.33"/><circle cx="376.29" cy="211" r="0.7"/><circle cx="342.8" cy="212.57" r="0.57"/><circle cx="334.42" cy="221.44" r="0.46"/><circle cx="340.65" cy="179.59" r="0.72"/><circle cx="343" cy="191.75" r="0.55"/><circle cx="352.1" cy="208.19" r="0.34"/></g>
<path d="M372 175 L378 184" stroke="#fff" stroke-width="0.9" opacity="0.7"/>
</g>
<rect x="372" y="222" width="17" height="1.2" fill="#fff" opacity="0.9"/>
<text x="380" y="221" font-size="2.6" text-anchor="middle" fill="#fff">100 µm</text>
<line x1="190.3" y1="22.6" x2="190.3" y2="76.45" stroke="#2a2a2a" stroke-width="0.9"/>
<line x1="188.5" y1="76" x2="190.3" y2="76" stroke="#2a2a2a" stroke-width="0.9"/>
<text x="187.7" y="78.23" font-size="6.2" text-anchor="end" fill="#1c1c1c">0</text>
<line x1="188.5" y1="65.4" x2="190.3" y2="65.4" stroke="#2a2a2a" stroke-width="0.9"/>
<text x="187.7" y="67.63" font-size="6.2" text-anchor="end" fill="#1c1c1c">10</text>
<line x1="188.5" y1="54.8" x2="190.3" y2="54.8" stroke="#2a2a2a" stroke-width="0.9"/>
<text x="187.7" y="57.03" font-size="6.2" text-anchor="end" fill="#1c1c1c">20</text>
<line x1="188.5" y1="44.2" x2="190.3" y2="44.2" stroke="#2a2a2a" stroke-width="0.9"/>
<text x="187.7" y="46.43" font-size="6.2" text-anchor="end" fill="#1c1c1c">30</text>
<line x1="188.5" y1="33.6" x2="190.3" y2="33.6" stroke="#2a2a2a" stroke-width="0.9"/>
<text x="187.7" y="35.83" font-size="6.2" text-anchor="end" fill="#1c1c1c">40</text>
<line x1="188.5" y1="23" x2="190.3" y2="23" stroke="#2a2a2a" stroke-width="0.9"/>
<text x="187.7" y="25.23" font-size="6.2" text-anchor="end" fill="#1c1c1c">50</text>
<line x1="189.85" y1="76" x2="218.5" y2="76" stroke="#2a2a2a" stroke-width="0.9"/>
<rect x="193.88" y="42.45" width="8.54" height="33.55" fill="#4a7dc6" stroke="#142850" stroke-width="1.15"/>
<line x1="198.15" y1="41.87" x2="198.15" y2="39.11" stroke="#222" stroke-width="0.8"/>
<line x1="195.95" y1="39.11" x2="200.35" y2="39.11" stroke="#222" stroke-width="0.8"/>
<circle cx="197.15" cy="30.42" r="1.05" fill="#111"/>
<circle cx="199.95" cy="34.13" r="1.05" fill="#111"/>
<circle cx="196.65" cy="37.84" r="1.05" fill="#111"/>
<circle cx="199.15" cy="44.2" r="1.05" fill="#111"/>
<circle cx="196.15" cy="46.32" r="1.05" fill="#111"/>
<circle cx="200.65" cy="47.38" r="1.05" fill="#111"/>
<circle cx="196.65" cy="52.68" r="1.05" fill="#111"/>
<rect x="207.78" y="62.8" width="9.04" height="13.2" fill="#f36a6a" stroke="#561818" stroke-width="1.15"/>
<line x1="212.3" y1="62.22" x2="212.3" y2="59.04" stroke="#222" stroke-width="0.8"/>
<line x1="210.1" y1="59.04" x2="214.5" y2="59.04" stroke="#222" stroke-width="0.8"/>
<circle cx="213.3" cy="50.56" r="1.05" fill="#111"/>
<circle cx="211.3" cy="54.8" r="1.05" fill="#111"/>
<circle cx="214.3" cy="57.98" r="1.05" fill="#111"/>
<circle cx="212.3" cy="63.28" r="1.05" fill="#111"/>
<circle cx="213.8" cy="67.52" r="1.05" fill="#111"/>
<circle cx="210.8" cy="70.7" r="1.05" fill="#111"/>
<circle cx="212.8" cy="72.82" r="1.05" fill="#111"/>
<path d="M195.4 26.7V23.3H211.8V26.7" fill="none" stroke="#222" stroke-width="1.0"/>
<text x="203.6" y="24.2" font-size="7.2" text-anchor="middle" fill="#222">**</text>
<text x="203.7" y="13.3" font-size="6.8" text-anchor="middle" fill="#161616" textLength="34.8" lengthAdjust="spacingAndGlyphs">Tumor load</text>
<text transform="translate(175.38 49.3) rotate(-90)" x="0" y="0" font-size="6.6" text-anchor="middle" fill="#161616">mm</text>
<line x1="246.6" y1="22" x2="246.6" y2="76.65" stroke="#2a2a2a" stroke-width="0.9"/>
<line x1="244.8" y1="76.2" x2="246.6" y2="76.2" stroke="#2a2a2a" stroke-width="0.9"/>
<text x="244" y="78.43" font-size="6.2" text-anchor="end" fill="#1c1c1c">0</text>
<line x1="244.8" y1="58.27" x2="246.6" y2="58.27" stroke="#2a2a2a" stroke-width="0.9"/>
<text x="244" y="60.5" font-size="6.2" text-anchor="end" fill="#1c1c1c">5</text>
<line x1="244.8" y1="40.33" x2="246.6" y2="40.33" stroke="#2a2a2a" stroke-width="0.9"/>
<text x="244" y="42.57" font-size="6.2" text-anchor="end" fill="#1c1c1c">10</text>
<line x1="244.8" y1="22.4" x2="246.6" y2="22.4" stroke="#2a2a2a" stroke-width="0.9"/>
<text x="244" y="24.63" font-size="6.2" text-anchor="end" fill="#1c1c1c">15</text>
<line x1="246.15" y1="76.2" x2="274.5" y2="76.2" stroke="#2a2a2a" stroke-width="0.9"/>
<rect x="249.38" y="51.67" width="8.64" height="24.53" fill="#4a7dc6" stroke="#142850" stroke-width="1.15"/>
<line x1="253.7" y1="51.09" x2="253.7" y2="46.79" stroke="#222" stroke-width="0.8"/>
<line x1="251.5" y1="46.79" x2="255.9" y2="46.79" stroke="#222" stroke-width="0.8"/>
<circle cx="253.7" cy="36.75" r="1.05" fill="#111"/>
<circle cx="251.7" cy="43.92" r="1.05" fill="#111"/>
<circle cx="255.7" cy="43.92" r="1.05" fill="#111"/>
<circle cx="252.7" cy="47.51" r="1.05" fill="#111"/>
<circle cx="255.2" cy="58.27" r="1.05" fill="#111"/>
<circle cx="252.2" cy="58.27" r="1.05" fill="#111"/>
<circle cx="253.7" cy="69.03" r="1.05" fill="#111"/>
<rect x="263.58" y="66.02" width="8.44" height="10.18" fill="#f36a6a" stroke="#561818" stroke-width="1.15"/>
<line x1="267.8" y1="65.44" x2="267.8" y2="62.57" stroke="#222" stroke-width="0.8"/>
<line x1="265.6" y1="62.57" x2="270" y2="62.57" stroke="#222" stroke-width="0.8"/>
<circle cx="267.8" cy="54.68" r="1.05" fill="#111"/>
<circle cx="267.8" cy="58.27" r="1.05" fill="#111"/>
<circle cx="266" cy="61.85" r="1.05" fill="#111"/>
<circle cx="269.6" cy="61.85" r="1.05" fill="#111"/>
<circle cx="266" cy="69.03" r="1.05" fill="#111"/>
<circle cx="269.6" cy="69.03" r="1.05" fill="#111"/>
<circle cx="267.8" cy="72.61" r="1.05" fill="#111"/>
<circle cx="266.3" cy="72.61" r="1.05" fill="#111"/>
<path d="M253.1 26.7V23.1H269.7V26.7" fill="none" stroke="#222" stroke-width="1.0"/>
<text x="261.4" y="24" font-size="7.2" text-anchor="middle" fill="#222">*</text>
<text x="259.3" y="13.5" font-size="6.8" text-anchor="middle" fill="#161616" textLength="45.3" lengthAdjust="spacingAndGlyphs">Tumor number</text>
<text transform="translate(231.82 49.4) rotate(-90)" x="0" y="0" font-size="7" text-anchor="middle" fill="#161616">Number</text>
<rect x="278.4" y="47.4" width="5.6" height="5.3" fill="#4a7cc8" stroke="#14254a" stroke-width="1.2"/>
<rect x="278.4" y="56.2" width="5.6" height="5.3" fill="#f07878" stroke="#4a1414" stroke-width="1.2"/>
<text x="286.8" y="52.41" font-size="6.2" text-anchor="start" fill="#3c3c3c" font-style="italic">Il27ra<tspan font-size="4.22" dy="-2.85">+/−</tspan></text>
<text x="286.8" y="61.21" font-size="6.2" text-anchor="start" fill="#3c3c3c" font-style="italic">Il27ra<tspan font-size="4.22" dy="-2.85">−/−</tspan></text>
<line x1="337.2" y1="22.4" x2="337.2" y2="76.65" stroke="#2a2a2a" stroke-width="0.9"/>
<line x1="335.4" y1="76.2" x2="337.2" y2="76.2" stroke="#2a2a2a" stroke-width="0.9"/>
<text x="334.6" y="78.43" font-size="6.2" text-anchor="end" fill="#1c1c1c">0.0</text>
<line x1="335.4" y1="58.4" x2="337.2" y2="58.4" stroke="#2a2a2a" stroke-width="0.9"/>
<text x="334.6" y="60.63" font-size="6.2" text-anchor="end" fill="#1c1c1c">0.5</text>
<line x1="335.4" y1="40.6" x2="337.2" y2="40.6" stroke="#2a2a2a" stroke-width="0.9"/>
<text x="334.6" y="42.83" font-size="6.2" text-anchor="end" fill="#1c1c1c">1.0</text>
<line x1="335.4" y1="22.8" x2="337.2" y2="22.8" stroke="#2a2a2a" stroke-width="0.9"/>
<text x="334.6" y="25.03" font-size="6.2" text-anchor="end" fill="#1c1c1c">1.5</text>
<line x1="336.75" y1="76.2" x2="364.5" y2="76.2" stroke="#2a2a2a" stroke-width="0.9"/>
<rect x="340.58" y="41.18" width="7.64" height="35.02" fill="#4a7dc6" stroke="#142850" stroke-width="1.15"/>
<line x1="340.2" y1="40.6" x2="348.6" y2="40.6" stroke="#111" stroke-width="1.3"/>
<rect x="354.88" y="66.1" width="7.34" height="10.1" fill="#f36a6a" stroke="#561818" stroke-width="1.15"/>
<line x1="358.55" y1="65.52" x2="358.55" y2="63.38" stroke="#222" stroke-width="0.8"/>
<line x1="356.35" y1="63.38" x2="360.75" y2="63.38" stroke="#222" stroke-width="0.8"/>
<circle cx="358.55" cy="56.62" r="1.05" fill="#111"/>
<circle cx="357.55" cy="61.25" r="1.05" fill="#111"/>
<circle cx="360.05" cy="63.74" r="1.05" fill="#111"/>
<circle cx="357.05" cy="66.23" r="1.05" fill="#111"/>
<circle cx="359.05" cy="69.08" r="1.05" fill="#111"/>
<circle cx="360.05" cy="71.93" r="1.05" fill="#111"/>
<path d="M344.2 27.4V24.6H359.5V27.4" fill="none" stroke="#222" stroke-width="1.0"/>
<text x="351.85" y="25.5" font-size="7.2" text-anchor="middle" fill="#222">****</text>
<text x="351.3" y="13.2" font-size="7.2" text-anchor="middle" fill="#161616" font-style="italic" textLength="20.6" lengthAdjust="spacingAndGlyphs">Ccnd1</text>
<text transform="translate(318.95 49) rotate(-90)" x="0" y="0" font-size="6.8" text-anchor="middle" fill="#161616">Fold change</text>
<rect x="368.3" y="48" width="5.6" height="5.3" fill="#4a7cc8" stroke="#14254a" stroke-width="1.2"/>
<rect x="368.3" y="57.2" width="5.6" height="5.3" fill="#f07878" stroke="#4a1414" stroke-width="1.2"/>
<text x="376.7" y="53.01" font-size="6.2" text-anchor="start" fill="#3c3c3c" font-style="italic">Il27ra<tspan font-size="4.22" dy="-2.85">+/−</tspan></text>
<text x="376.7" y="62.21" font-size="6.2" text-anchor="start" fill="#3c3c3c" font-style="italic">Il27ra<tspan font-size="4.22" dy="-2.85">−/−</tspan></text>
<line x1="426.9" y1="22.4" x2="426.9" y2="76.05" stroke="#2a2a2a" stroke-width="0.9"/>
<line x1="425.1" y1="75.6" x2="426.9" y2="75.6" stroke="#2a2a2a" stroke-width="0.9"/>
<text x="424.6" y="77.8" font-size="6.1" text-anchor="end" fill="#1c1c1c">0</text>
<line x1="425.1" y1="62.4" x2="426.9" y2="62.4" stroke="#2a2a2a" stroke-width="0.9"/>
<text x="424.6" y="64.6" font-size="6.1" text-anchor="end" fill="#1c1c1c">10</text>
<line x1="425.1" y1="49.2" x2="426.9" y2="49.2" stroke="#2a2a2a" stroke-width="0.9"/>
<text x="424.6" y="51.4" font-size="6.1" text-anchor="end" fill="#1c1c1c">20</text>
<line x1="425.1" y1="36" x2="426.9" y2="36" stroke="#2a2a2a" stroke-width="0.9"/>
<text x="424.6" y="38.2" font-size="6.1" text-anchor="end" fill="#1c1c1c">30</text>
<line x1="425.1" y1="22.8" x2="426.9" y2="22.8" stroke="#2a2a2a" stroke-width="0.9"/>
<text x="424.6" y="25" font-size="6.1" text-anchor="end" fill="#1c1c1c">40</text>
<line x1="426.45" y1="75.6" x2="481.5" y2="75.6" stroke="#2a2a2a" stroke-width="0.9"/>
<rect x="429.78" y="74.86" width="8.14" height="0.74" fill="#4a7dc6" stroke="#142850" stroke-width="1.15"/>
<line x1="433.85" y1="74.28" x2="433.85" y2="74.15" stroke="#222" stroke-width="0.8"/>
<line x1="431.65" y1="74.15" x2="436.05" y2="74.15" stroke="#222" stroke-width="0.8"/>
<circle cx="430.85" cy="74.28" r="1.05" fill="#111"/>
<circle cx="432.85" cy="74.28" r="1.05" fill="#111"/>
<circle cx="434.85" cy="74.28" r="1.05" fill="#111"/>
<circle cx="436.85" cy="74.28" r="1.05" fill="#111"/>
<rect x="443.58" y="74.2" width="7.34" height="1.4" fill="#f36a6a" stroke="#561818" stroke-width="1.15"/>
<line x1="447.25" y1="73.62" x2="447.25" y2="72.96" stroke="#222" stroke-width="0.8"/>
<line x1="445.05" y1="72.96" x2="449.45" y2="72.96" stroke="#222" stroke-width="0.8"/>
<circle cx="447.25" cy="71.24" r="1.05" fill="#111"/>
<circle cx="445.25" cy="72.17" r="1.05" fill="#111"/>
<circle cx="449.25" cy="72.7" r="1.05" fill="#111"/>
<circle cx="446.25" cy="73.62" r="1.05" fill="#111"/>
<circle cx="448.75" cy="74.54" r="1.05" fill="#111"/>
<circle cx="445.25" cy="75.07" r="1.05" fill="#111"/>
<rect x="457.78" y="54.53" width="7.84" height="21.07" fill="#4a7dc6" stroke="#142850" stroke-width="1.15"/>
<line x1="461.7" y1="53.95" x2="461.7" y2="48.67" stroke="#222" stroke-width="0.8"/>
<line x1="459.5" y1="48.67" x2="463.9" y2="48.67" stroke="#222" stroke-width="0.8"/>
<circle cx="461.7" cy="34.02" r="1.05" fill="#111"/>
<circle cx="461.7" cy="44.45" r="1.05" fill="#111"/>
<circle cx="460.2" cy="57.91" r="1.05" fill="#111"/>
<circle cx="463.2" cy="58.44" r="1.05" fill="#111"/>
<circle cx="461.7" cy="61.34" r="1.05" fill="#111"/>
<circle cx="461.7" cy="68.34" r="1.05" fill="#111"/>
<rect x="471.58" y="70.24" width="7.24" height="5.36" fill="#f36a6a" stroke="#561818" stroke-width="1.15"/>
<line x1="475.2" y1="69.66" x2="475.2" y2="68.34" stroke="#222" stroke-width="0.8"/>
<line x1="473" y1="68.34" x2="477.4" y2="68.34" stroke="#222" stroke-width="0.8"/>
<circle cx="475.2" cy="65.3" r="1.05" fill="#111"/>
<circle cx="473.7" cy="67.42" r="1.05" fill="#111"/>
<circle cx="477" cy="68.74" r="1.05" fill="#111"/>
<circle cx="474.2" cy="70.32" r="1.05" fill="#111"/>
<circle cx="476.2" cy="71.9" r="1.05" fill="#111"/>
<circle cx="473.7" cy="73.22" r="1.05" fill="#111"/>
<path d="M432 26.2V23.4H459.7V26.2" fill="none" stroke="#222" stroke-width="1.0"/>
<text x="445.85" y="24.3" font-size="7.2" text-anchor="middle" fill="#222">***</text>
<path d="M464.2 26.6V23.4H476.8V26.6" fill="none" stroke="#222" stroke-width="1.0"/>
<text x="470.5" y="24.3" font-size="7.2" text-anchor="middle" fill="#222">**</text>
<line x1="427.3" y1="76.9" x2="451.5" y2="76.9" stroke="#666" stroke-width="1.3"/>
<text x="439.4" y="84" font-size="6.6" text-anchor="middle" fill="#161616">NT</text>
<line x1="455" y1="76.9" x2="481.7" y2="76.9" stroke="#666" stroke-width="1.3"/>
<text x="468.35" y="84.5" font-size="6.6" text-anchor="middle" fill="#161616">T</text>
<text x="454.3" y="13.5" font-size="7.2" text-anchor="middle" fill="#161616" font-style="italic" textLength="15.4" lengthAdjust="spacingAndGlyphs">Lcn2</text>
<text transform="translate(410.25 49.3) rotate(-90)" x="0" y="0" font-size="7.08" text-anchor="middle" fill="#161616">Fold change</text>
<rect x="490.2" y="48.1" width="5.6" height="5.3" fill="#4a7cc8" stroke="#14254a" stroke-width="1.2"/>
<rect x="490.2" y="57" width="5.6" height="5.3" fill="#f07878" stroke="#4a1414" stroke-width="1.2"/>
<text x="498.6" y="53.11" font-size="6.2" text-anchor="start" fill="#3c3c3c" font-style="italic">Il27ra<tspan font-size="4.22" dy="-2.85">+/−</tspan></text>
<text x="498.6" y="62.01" font-size="6.2" text-anchor="start" fill="#3c3c3c" font-style="italic">Il27ra<tspan font-size="4.22" dy="-2.85">−/−</tspan></text>
<line x1="200.4" y1="172.7" x2="200.4" y2="226.95" stroke="#2a2a2a" stroke-width="0.9"/>
<line x1="198.6" y1="226.5" x2="200.4" y2="226.5" stroke="#2a2a2a" stroke-width="0.9"/>
<text x="197.1" y="228.77" font-size="6.3" text-anchor="end" fill="#1c1c1c">0</text>
<line x1="198.6" y1="215.82" x2="200.4" y2="215.82" stroke="#2a2a2a" stroke-width="0.9"/>
<text x="197.1" y="218.09" font-size="6.3" text-anchor="end" fill="#1c1c1c">500</text>
<line x1="198.6" y1="205.14" x2="200.4" y2="205.14" stroke="#2a2a2a" stroke-width="0.9"/>
<text x="197.1" y="207.41" font-size="6.3" text-anchor="end" fill="#1c1c1c">1,000</text>
<line x1="198.6" y1="194.46" x2="200.4" y2="194.46" stroke="#2a2a2a" stroke-width="0.9"/>
<text x="197.1" y="196.73" font-size="6.3" text-anchor="end" fill="#1c1c1c">1,500</text>
<line x1="198.6" y1="183.78" x2="200.4" y2="183.78" stroke="#2a2a2a" stroke-width="0.9"/>
<text x="197.1" y="186.05" font-size="6.3" text-anchor="end" fill="#1c1c1c">2,000</text>
<line x1="198.6" y1="173.1" x2="200.4" y2="173.1" stroke="#2a2a2a" stroke-width="0.9"/>
<text x="197.1" y="175.37" font-size="6.3" text-anchor="end" fill="#1c1c1c">2,500</text>
<line x1="199.95" y1="226.5" x2="229" y2="226.5" stroke="#2a2a2a" stroke-width="0.9"/>
<rect x="204.08" y="202.52" width="8.04" height="23.98" fill="#4a7dc6" stroke="#142850" stroke-width="1.15"/>
<line x1="208.1" y1="201.94" x2="208.1" y2="197.02" stroke="#222" stroke-width="0.8"/>
<line x1="205.9" y1="197.02" x2="210.3" y2="197.02" stroke="#222" stroke-width="0.8"/>
<circle cx="207.4" cy="184.85" r="1.05" fill="#111"/>
<circle cx="207.4" cy="188.05" r="1.05" fill="#111"/>
<circle cx="207.4" cy="191.26" r="1.05" fill="#111"/>
<circle cx="207.4" cy="193.82" r="1.05" fill="#111"/>
<circle cx="207.4" cy="197.02" r="1.05" fill="#111"/>
<circle cx="205.6" cy="205.14" r="1.05" fill="#111"/>
<circle cx="210.6" cy="208.98" r="1.05" fill="#111"/>
<circle cx="208.1" cy="221.16" r="1.05" fill="#111"/>
<rect x="217.78" y="216.83" width="8.44" height="9.67" fill="#f36a6a" stroke="#561818" stroke-width="1.15"/>
<line x1="222" y1="216.25" x2="222" y2="214.32" stroke="#222" stroke-width="0.8"/>
<line x1="219.8" y1="214.32" x2="224.2" y2="214.32" stroke="#222" stroke-width="0.8"/>
<circle cx="222" cy="206.31" r="1.05" fill="#111"/>
<circle cx="222" cy="212.3" r="1.05" fill="#111"/>
<circle cx="219.5" cy="217.53" r="1.05" fill="#111"/>
<circle cx="224" cy="219.45" r="1.05" fill="#111"/>
<circle cx="219" cy="220.73" r="1.05" fill="#111"/>
<circle cx="223.5" cy="221.16" r="1.05" fill="#111"/>
<path d="M207.3 180.8V177.7H219.6V180.8" fill="none" stroke="#222" stroke-width="1.0"/>
<text x="213.45" y="178.6" font-size="7.2" text-anchor="middle" fill="#222">*</text>
<text x="214.2" y="165.4" font-size="6.8" text-anchor="middle" fill="#161616" textLength="35.8" lengthAdjust="spacingAndGlyphs">Van Gieson</text>
<text transform="translate(176.58 199) rotate(-90)" x="0" y="0" font-size="7.16" text-anchor="middle" fill="#161616">Positive area (mm<tspan font-size="4.87" dy="-3.29">2</tspan><tspan dy="3.29">)</tspan></text>
<line x1="426.5" y1="172.4" x2="426.5" y2="226.75" stroke="#2a2a2a" stroke-width="0.9"/>
<line x1="424.7" y1="226.3" x2="426.5" y2="226.3" stroke="#2a2a2a" stroke-width="0.9"/>
<text x="423.5" y="228.53" font-size="6.2" text-anchor="end" fill="#1c1c1c">0</text>
<line x1="424.7" y1="215.6" x2="426.5" y2="215.6" stroke="#2a2a2a" stroke-width="0.9"/>
<text x="423.5" y="217.83" font-size="6.2" text-anchor="end" fill="#1c1c1c">20</text>
<line x1="424.7" y1="204.9" x2="426.5" y2="204.9" stroke="#2a2a2a" stroke-width="0.9"/>
<text x="423.5" y="207.13" font-size="6.2" text-anchor="end" fill="#1c1c1c">40</text>
<line x1="424.7" y1="194.2" x2="426.5" y2="194.2" stroke="#2a2a2a" stroke-width="0.9"/>
<text x="423.5" y="196.43" font-size="6.2" text-anchor="end" fill="#1c1c1c">60</text>
<line x1="424.7" y1="183.5" x2="426.5" y2="183.5" stroke="#2a2a2a" stroke-width="0.9"/>
<text x="423.5" y="185.73" font-size="6.2" text-anchor="end" fill="#1c1c1c">80</text>
<line x1="424.7" y1="172.8" x2="426.5" y2="172.8" stroke="#2a2a2a" stroke-width="0.9"/>
<text x="423.5" y="175.03" font-size="6.2" text-anchor="end" fill="#1c1c1c">100</text>
<line x1="426.05" y1="226.3" x2="457" y2="226.3" stroke="#2a2a2a" stroke-width="0.9"/>
<rect x="430.08" y="189.16" width="9.04" height="37.14" fill="#4a7dc6" stroke="#142850" stroke-width="1.15"/>
<line x1="434.6" y1="188.58" x2="434.6" y2="187.25" stroke="#222" stroke-width="0.8"/>
<line x1="432.4" y1="187.25" x2="436.8" y2="187.25" stroke="#222" stroke-width="0.8"/>
<circle cx="432.4" cy="186.39" r="1.05" fill="#111"/>
<circle cx="436.4" cy="184.68" r="1.05" fill="#111"/>
<circle cx="434.4" cy="195.38" r="1.05" fill="#111"/>
<circle cx="435.6" cy="188.31" r="1.05" fill="#111"/>
<rect x="444.98" y="200.67" width="8.74" height="25.64" fill="#f36a6a" stroke="#561818" stroke-width="1.15"/>
<line x1="449.35" y1="200.09" x2="449.35" y2="197.95" stroke="#222" stroke-width="0.8"/>
<line x1="447.15" y1="197.95" x2="451.55" y2="197.95" stroke="#222" stroke-width="0.8"/>
<circle cx="449.65" cy="192.38" r="1.05" fill="#111"/>
<circle cx="449.65" cy="206.29" r="1.05" fill="#111"/>
<circle cx="448.35" cy="198.48" r="1.05" fill="#111"/>
<circle cx="450.55" cy="201.16" r="1.05" fill="#111"/>
<path d="M434.6 180.9V178.2H448V180.9" fill="none" stroke="#222" stroke-width="1.0"/>
<text x="441.3" y="179.1" font-size="7.2" text-anchor="middle" fill="#222">*</text>
<text x="441.6" y="165.4" font-size="6.8" text-anchor="middle" fill="#161616" textLength="31.2" lengthAdjust="spacingAndGlyphs">Trichrome</text>
<text transform="translate(407.63 199) rotate(-90)" x="0" y="0" font-size="7.03" text-anchor="middle" fill="#161616">Positive area (mm<tspan font-size="4.78" dy="-3.23">2</tspan><tspan dy="3.23">)</tspan></text>
<rect x="461.8" y="202.1" width="5.6" height="5.3" fill="#4a7cc8" stroke="#14254a" stroke-width="1.2"/>
<rect x="461.8" y="210.6" width="5.6" height="5.3" fill="#f07878" stroke="#4a1414" stroke-width="1.2"/>
<text x="470.2" y="207.11" font-size="6.2" text-anchor="start" fill="#3c3c3c" font-style="italic">Il27ra<tspan font-size="4.22" dy="-2.85">+/−</tspan></text>
<text x="470.2" y="215.61" font-size="6.2" text-anchor="start" fill="#3c3c3c" font-style="italic">Il27ra<tspan font-size="4.22" dy="-2.85">−/−</tspan></text>
<line x1="24.4" y1="283" x2="24.4" y2="336.75" stroke="#2a2a2a" stroke-width="0.9"/>
<line x1="22.6" y1="336.3" x2="24.4" y2="336.3" stroke="#2a2a2a" stroke-width="0.9"/>
<text x="20.8" y="338.82" font-size="7" text-anchor="end" fill="#1c1c1c">0</text>
<line x1="22.6" y1="323.07" x2="24.4" y2="323.07" stroke="#2a2a2a" stroke-width="0.9"/>
<text x="20.8" y="325.59" font-size="7" text-anchor="end" fill="#1c1c1c">5</text>
<line x1="22.6" y1="309.85" x2="24.4" y2="309.85" stroke="#2a2a2a" stroke-width="0.9"/>
<text x="20.8" y="312.37" font-size="7" text-anchor="end" fill="#1c1c1c">10</text>
<line x1="22.6" y1="296.62" x2="24.4" y2="296.62" stroke="#2a2a2a" stroke-width="0.9"/>
<text x="20.8" y="299.14" font-size="7" text-anchor="end" fill="#1c1c1c">15</text>
<line x1="22.6" y1="283.4" x2="24.4" y2="283.4" stroke="#2a2a2a" stroke-width="0.9"/>
<text x="20.8" y="285.92" font-size="7" text-anchor="end" fill="#1c1c1c">20</text>
<line x1="23.95" y1="336.3" x2="77.5" y2="336.3" stroke="#2a2a2a" stroke-width="0.9"/>
<rect x="26.58" y="307.78" width="8.74" height="28.52" fill="#4a7dc6" stroke="#142850" stroke-width="1.15"/>
<line x1="30.95" y1="307.2" x2="30.95" y2="301.39" stroke="#222" stroke-width="0.8"/>
<line x1="28.75" y1="301.39" x2="33.15" y2="301.39" stroke="#222" stroke-width="0.8"/>
<circle cx="28.95" cy="299.27" r="1.05" fill="#111"/>
<circle cx="32.45" cy="301.91" r="1.05" fill="#111"/>
<circle cx="30.95" cy="309.85" r="1.05" fill="#111"/>
<circle cx="29.45" cy="311.17" r="1.05" fill="#111"/>
<circle cx="32.95" cy="312.5" r="1.05" fill="#111"/>
<rect x="40.38" y="307.78" width="7.94" height="28.52" fill="#f36a6a" stroke="#561818" stroke-width="1.15"/>
<line x1="44.35" y1="307.2" x2="44.35" y2="303.5" stroke="#222" stroke-width="0.8"/>
<line x1="42.15" y1="303.5" x2="46.55" y2="303.5" stroke="#222" stroke-width="0.8"/>
<circle cx="42.85" cy="303.24" r="1.05" fill="#111"/>
<circle cx="45.85" cy="304.56" r="1.05" fill="#111"/>
<circle cx="44.35" cy="308.53" r="1.05" fill="#111"/>
<circle cx="42.85" cy="311.17" r="1.05" fill="#111"/>
<circle cx="45.85" cy="312.5" r="1.05" fill="#111"/>
<rect x="53.78" y="304.61" width="8.44" height="31.69" fill="#4a7dc6" stroke="#142850" stroke-width="1.15"/>
<line x1="58" y1="304.03" x2="58" y2="298.74" stroke="#222" stroke-width="0.8"/>
<line x1="55.8" y1="298.74" x2="60.2" y2="298.74" stroke="#222" stroke-width="0.8"/>
<circle cx="56.5" cy="297.95" r="1.05" fill="#111"/>
<circle cx="59.5" cy="300.59" r="1.05" fill="#111"/>
<circle cx="58" cy="304.56" r="1.05" fill="#111"/>
<circle cx="57" cy="309.85" r="1.05" fill="#111"/>
<circle cx="58.5" cy="313.82" r="1.05" fill="#111"/>
<rect x="67.28" y="308.05" width="8.34" height="28.25" fill="#f36a6a" stroke="#561818" stroke-width="1.15"/>
<line x1="71.45" y1="307.47" x2="71.45" y2="302.18" stroke="#222" stroke-width="0.8"/>
<line x1="69.25" y1="302.18" x2="73.65" y2="302.18" stroke="#222" stroke-width="0.8"/>
<circle cx="69.95" cy="303.24" r="1.05" fill="#111"/>
<circle cx="72.95" cy="303.24" r="1.05" fill="#111"/>
<circle cx="71.45" cy="307.2" r="1.05" fill="#111"/>
<circle cx="70.45" cy="312.5" r="1.05" fill="#111"/>
<circle cx="71.95" cy="315.14" r="1.05" fill="#111"/>
<path d="M32 277.5V275H45.5V277.5" fill="none" stroke="#222" stroke-width="1.0"/>
<path d="M57.2 277.5V275H70.4V277.5" fill="none" stroke="#222" stroke-width="1.0"/>
<text x="39.2" y="273.4" font-size="6.6" text-anchor="middle" fill="#333">ns</text>
<text x="63.9" y="273.4" font-size="6.6" text-anchor="middle" fill="#333">ns</text>
<line x1="26.8" y1="339.1" x2="50.2" y2="339.1" stroke="#666" stroke-width="1.2"/>
<text x="38.5" y="345" font-size="6.6" text-anchor="middle" fill="#161616">NT</text>
<line x1="53.6" y1="339.1" x2="77" y2="339.1" stroke="#666" stroke-width="1.2"/>
<text x="65.3" y="345" font-size="6.6" text-anchor="middle" fill="#161616">T</text>
<text x="49.3" y="265" font-size="6.8" text-anchor="middle" fill="#161616" textLength="42.2" lengthAdjust="spacingAndGlyphs">CD8α<tspan font-size="4.62" dy="-3.13">+</tspan><tspan dy="3.13">TCRβ</tspan><tspan font-size="4.62" dy="-3.13">+</tspan></text>
<text transform="translate(9.87 310.1) rotate(-90)" x="0" y="0" font-size="7.15" text-anchor="middle" fill="#161616">% of CD45<tspan font-size="4.86" dy="-3.29">+</tspan></text>
<line x1="112.4" y1="283.2" x2="112.4" y2="337.05" stroke="#2a2a2a" stroke-width="0.9"/>
<line x1="110.6" y1="336.6" x2="112.4" y2="336.6" stroke="#2a2a2a" stroke-width="0.9"/>
<text x="109" y="338.98" font-size="6.6" text-anchor="end" fill="#1c1c1c">0</text>
<line x1="110.6" y1="323.35" x2="112.4" y2="323.35" stroke="#2a2a2a" stroke-width="0.9"/>
<text x="109" y="325.73" font-size="6.6" text-anchor="end" fill="#1c1c1c">10</text>
<line x1="110.6" y1="310.1" x2="112.4" y2="310.1" stroke="#2a2a2a" stroke-width="0.9"/>
<text x="109" y="312.48" font-size="6.6" text-anchor="end" fill="#1c1c1c">20</text>
<line x1="110.6" y1="296.85" x2="112.4" y2="296.85" stroke="#2a2a2a" stroke-width="0.9"/>
<text x="109" y="299.23" font-size="6.6" text-anchor="end" fill="#1c1c1c">30</text>
<line x1="110.6" y1="283.6" x2="112.4" y2="283.6" stroke="#2a2a2a" stroke-width="0.9"/>
<text x="109" y="285.98" font-size="6.6" text-anchor="end" fill="#1c1c1c">40</text>
<line x1="111.95" y1="336.6" x2="165" y2="336.6" stroke="#2a2a2a" stroke-width="0.9"/>
<rect x="115.68" y="304.06" width="7.74" height="32.55" fill="#4a7dc6" stroke="#142850" stroke-width="1.15"/>
<line x1="119.55" y1="303.48" x2="119.55" y2="300.83" stroke="#222" stroke-width="0.8"/>
<line x1="117.35" y1="300.83" x2="121.75" y2="300.83" stroke="#222" stroke-width="0.8"/>
<circle cx="118.55" cy="300.83" r="1.05" fill="#111"/>
<circle cx="121.05" cy="302.81" r="1.05" fill="#111"/>
<circle cx="119.55" cy="304.8" r="1.05" fill="#111"/>
<circle cx="118.05" cy="306.79" r="1.05" fill="#111"/>
<circle cx="121.05" cy="308.78" r="1.05" fill="#111"/>
<rect x="128.78" y="306.31" width="7.74" height="30.29" fill="#f36a6a" stroke="#561818" stroke-width="1.15"/>
<line x1="132.65" y1="305.73" x2="132.65" y2="302.55" stroke="#222" stroke-width="0.8"/>
<line x1="130.45" y1="302.55" x2="134.85" y2="302.55" stroke="#222" stroke-width="0.8"/>
<circle cx="134.15" cy="303.48" r="1.05" fill="#111"/>
<circle cx="131.65" cy="304.8" r="1.05" fill="#111"/>
<circle cx="132.65" cy="306.12" r="1.05" fill="#111"/>
<circle cx="133.65" cy="308.11" r="1.05" fill="#111"/>
<rect x="141.98" y="308.69" width="8.24" height="27.91" fill="#4a7dc6" stroke="#142850" stroke-width="1.15"/>
<line x1="146.1" y1="308.11" x2="146.1" y2="302.28" stroke="#222" stroke-width="0.8"/>
<line x1="143.9" y1="302.28" x2="148.3" y2="302.28" stroke="#222" stroke-width="0.8"/>
<circle cx="144.6" cy="303.48" r="1.05" fill="#111"/>
<circle cx="147.6" cy="304.8" r="1.05" fill="#111"/>
<circle cx="146.1" cy="307.45" r="1.05" fill="#111"/>
<circle cx="145.1" cy="311.43" r="1.05" fill="#111"/>
<circle cx="146.6" cy="316.73" r="1.05" fill="#111"/>
<rect x="155.38" y="304.45" width="8.24" height="32.15" fill="#f36a6a" stroke="#561818" stroke-width="1.15"/>
<line x1="159.5" y1="303.87" x2="159.5" y2="297.25" stroke="#222" stroke-width="0.8"/>
<line x1="157.3" y1="297.25" x2="161.7" y2="297.25" stroke="#222" stroke-width="0.8"/>
<circle cx="159.5" cy="298.18" r="1.05" fill="#111"/>
<circle cx="161" cy="299.5" r="1.05" fill="#111"/>
<circle cx="158.5" cy="304.8" r="1.05" fill="#111"/>
<circle cx="159.5" cy="310.1" r="1.05" fill="#111"/>
<path d="M120.4 278V275.5H133.8V278" fill="none" stroke="#222" stroke-width="1.0"/>
<path d="M147.6 278V275.5H160.8V278" fill="none" stroke="#222" stroke-width="1.0"/>
<text x="127.1" y="273.8" font-size="6.6" text-anchor="middle" fill="#333">ns</text>
<text x="154.2" y="273.8" font-size="6.6" text-anchor="middle" fill="#333">ns</text>
<line x1="111.5" y1="339.4" x2="138" y2="339.4" stroke="#666" stroke-width="1.2"/>
<text x="124.75" y="345" font-size="6.6" text-anchor="middle" fill="#161616">NT</text>
<line x1="140.5" y1="339.4" x2="165.5" y2="339.4" stroke="#666" stroke-width="1.2"/>
<text x="153" y="345" font-size="6.6" text-anchor="middle" fill="#161616">T</text>
<text x="139.3" y="265.1" font-size="6.8" text-anchor="middle" fill="#161616" textLength="39.8" lengthAdjust="spacingAndGlyphs">CD4<tspan font-size="4.62" dy="-3.13">+</tspan><tspan dy="3.13">TCRβ</tspan><tspan font-size="4.62" dy="-3.13">+</tspan></text>
<text transform="translate(99.07 310.3) rotate(-90)" x="0" y="0" font-size="7.15" text-anchor="middle" fill="#161616">% of CD45<tspan font-size="4.86" dy="-3.29">+</tspan></text>
<rect x="169.5" y="300.9" width="5.6" height="5.3" fill="#4a7cc8" stroke="#14254a" stroke-width="1.2"/>
<rect x="169.5" y="309.8" width="5.6" height="5.3" fill="#f07878" stroke="#4a1414" stroke-width="1.2"/>
<text x="177.9" y="305.91" font-size="6.2" text-anchor="start" fill="#333" font-style="italic">Il27ra<tspan font-size="4.22" dy="-2.85">+/−</tspan></text>
<text x="177.9" y="314.81" font-size="6.2" text-anchor="start" fill="#333" font-style="italic">Il27ra<tspan font-size="4.22" dy="-2.85">−/−</tspan></text>
<line x1="237.4" y1="281.9" x2="237.4" y2="337.15" stroke="#2a2a2a" stroke-width="0.9"/>
<line x1="235.6" y1="336.7" x2="237.4" y2="336.7" stroke="#2a2a2a" stroke-width="0.9"/>
<text x="234.5" y="339.11" font-size="6.7" text-anchor="end" fill="#1c1c1c">0</text>
<line x1="235.6" y1="314.94" x2="237.4" y2="314.94" stroke="#2a2a2a" stroke-width="0.9"/>
<text x="234.5" y="317.35" font-size="6.7" text-anchor="end" fill="#1c1c1c">5</text>
<line x1="235.6" y1="293.18" x2="237.4" y2="293.18" stroke="#2a2a2a" stroke-width="0.9"/>
<text x="234.5" y="295.59" font-size="6.7" text-anchor="end" fill="#1c1c1c">10</text>
<line x1="235.6" y1="282.3" x2="237.4" y2="282.3" stroke="#2a2a2a" stroke-width="0.9"/>
<text x="234.5" y="284.71" font-size="6.7" text-anchor="end" fill="#1c1c1c">12.5</text>
<line x1="236.95" y1="336.7" x2="292" y2="336.7" stroke="#2a2a2a" stroke-width="0.9"/>
<rect x="240.38" y="308.12" width="7.64" height="28.58" fill="#4a7dc6" stroke="#142850" stroke-width="1.15"/>
<line x1="244.2" y1="307.54" x2="244.2" y2="304.93" stroke="#222" stroke-width="0.8"/>
<line x1="242" y1="304.93" x2="246.4" y2="304.93" stroke="#222" stroke-width="0.8"/>
<circle cx="241.7" cy="304.06" r="1.05" fill="#111"/>
<circle cx="244.2" cy="304.06" r="1.05" fill="#111"/>
<circle cx="246.7" cy="304.06" r="1.05" fill="#111"/>
<circle cx="243.2" cy="309.28" r="1.05" fill="#111"/>
<circle cx="245.7" cy="311.46" r="1.05" fill="#111"/>
<rect x="254.18" y="316.83" width="8.04" height="19.87" fill="#f36a6a" stroke="#561818" stroke-width="1.15"/>
<line x1="258.2" y1="316.25" x2="258.2" y2="313.63" stroke="#222" stroke-width="0.8"/>
<line x1="256" y1="313.63" x2="260.4" y2="313.63" stroke="#222" stroke-width="0.8"/>
<circle cx="255.7" cy="312.76" r="1.05" fill="#111"/>
<circle cx="258.2" cy="312.76" r="1.05" fill="#111"/>
<circle cx="260.7" cy="312.76" r="1.05" fill="#111"/>
<circle cx="257.2" cy="317.55" r="1.05" fill="#111"/>
<circle cx="258.7" cy="321.9" r="1.05" fill="#111"/>
<rect x="268.08" y="317.26" width="8.24" height="19.44" fill="#4a7dc6" stroke="#142850" stroke-width="1.15"/>
<line x1="272.2" y1="316.68" x2="272.2" y2="307.98" stroke="#222" stroke-width="0.8"/>
<line x1="270" y1="307.98" x2="274.4" y2="307.98" stroke="#222" stroke-width="0.8"/>
<circle cx="272.2" cy="306.67" r="1.05" fill="#111"/>
<circle cx="272.2" cy="311.02" r="1.05" fill="#111"/>
<circle cx="271.2" cy="317.12" r="1.05" fill="#111"/>
<circle cx="273.2" cy="321.03" r="1.05" fill="#111"/>
<circle cx="272.2" cy="325.82" r="1.05" fill="#111"/>
<rect x="281.98" y="300.72" width="8.04" height="35.98" fill="#f36a6a" stroke="#561818" stroke-width="1.15"/>
<line x1="286" y1="300.14" x2="286" y2="296.23" stroke="#222" stroke-width="0.8"/>
<line x1="283.8" y1="296.23" x2="288.2" y2="296.23" stroke="#222" stroke-width="0.8"/>
<circle cx="286" cy="290.13" r="1.05" fill="#111"/>
<circle cx="286" cy="292.74" r="1.05" fill="#111"/>
<circle cx="284" cy="297.53" r="1.05" fill="#111"/>
<circle cx="288" cy="300.58" r="1.05" fill="#111"/>
<circle cx="284.5" cy="303.62" r="1.05" fill="#111"/>
<circle cx="287.5" cy="305.37" r="1.05" fill="#111"/>
<circle cx="286" cy="308.41" r="1.05" fill="#111"/>
<path d="M257 277.5V274H285.5V277.5" fill="none" stroke="#222" stroke-width="1.0"/>
<text x="271.25" y="274.9" font-size="7.2" text-anchor="middle" fill="#222">**</text>
<path d="M272.6 284.6V281.6H285.5V284.6" fill="none" stroke="#222" stroke-width="1.0"/>
<text x="279.05" y="282.5" font-size="7.2" text-anchor="middle" fill="#222">**</text>
<line x1="240.1" y1="338.8" x2="262.3" y2="338.8" stroke="#666" stroke-width="1.2"/>
<text x="251.2" y="345.4" font-size="6.6" text-anchor="middle" fill="#161616">NT</text>
<line x1="268.4" y1="338.8" x2="292.6" y2="338.8" stroke="#666" stroke-width="1.2"/>
<text x="280.5" y="345.4" font-size="6.6" text-anchor="middle" fill="#161616">T</text>
<text x="264.8" y="265" font-size="6.8" text-anchor="middle" fill="#161616" textLength="46" lengthAdjust="spacingAndGlyphs">NK1.1<tspan font-size="4.62" dy="-3.13">+</tspan><tspan dy="3.13">TCRβ</tspan><tspan font-size="4.62" dy="-3.13">−</tspan></text>
<text transform="translate(217.67 309.6) rotate(-90)" x="0" y="0" font-size="7.15" text-anchor="middle" fill="#161616">% of CD45<tspan font-size="4.86" dy="-3.29">+</tspan></text>
<line x1="331.1" y1="282.2" x2="331.1" y2="337.35" stroke="#2a2a2a" stroke-width="0.9"/>
<line x1="329.3" y1="336.9" x2="331.1" y2="336.9" stroke="#2a2a2a" stroke-width="0.9"/>
<text x="328" y="339.28" font-size="6.6" text-anchor="end" fill="#1c1c1c">0</text>
<line x1="329.3" y1="323.32" x2="331.1" y2="323.32" stroke="#2a2a2a" stroke-width="0.9"/>
<text x="328" y="325.7" font-size="6.6" text-anchor="end" fill="#1c1c1c">20</text>
<line x1="329.3" y1="309.75" x2="331.1" y2="309.75" stroke="#2a2a2a" stroke-width="0.9"/>
<text x="328" y="312.13" font-size="6.6" text-anchor="end" fill="#1c1c1c">40</text>
<line x1="329.3" y1="296.18" x2="331.1" y2="296.18" stroke="#2a2a2a" stroke-width="0.9"/>
<text x="328" y="298.55" font-size="6.6" text-anchor="end" fill="#1c1c1c">60</text>
<line x1="329.3" y1="282.6" x2="331.1" y2="282.6" stroke="#2a2a2a" stroke-width="0.9"/>
<text x="328" y="284.98" font-size="6.6" text-anchor="end" fill="#1c1c1c">80</text>
<line x1="330.65" y1="336.9" x2="391" y2="336.9" stroke="#2a2a2a" stroke-width="0.9"/>
<rect x="334.78" y="310.67" width="8.44" height="26.23" fill="#4a7dc6" stroke="#142850" stroke-width="1.15"/>
<line x1="339" y1="310.09" x2="339" y2="306.36" stroke="#222" stroke-width="0.8"/>
<line x1="336.8" y1="306.36" x2="341.2" y2="306.36" stroke="#222" stroke-width="0.8"/>
<circle cx="337" cy="301.61" r="1.05" fill="#111"/>
<circle cx="341" cy="302.96" r="1.05" fill="#111"/>
<circle cx="339" cy="308.39" r="1.05" fill="#111"/>
<circle cx="338" cy="313.14" r="1.05" fill="#111"/>
<circle cx="340" cy="316.54" r="1.05" fill="#111"/>
<rect x="348.88" y="310.67" width="8.44" height="26.23" fill="#f36a6a" stroke="#561818" stroke-width="1.15"/>
<line x1="353.1" y1="310.09" x2="353.1" y2="309.07" stroke="#222" stroke-width="0.8"/>
<line x1="350.9" y1="309.07" x2="355.3" y2="309.07" stroke="#222" stroke-width="0.8"/>
<circle cx="353.1" cy="307.04" r="1.05" fill="#111"/>
<circle cx="351.1" cy="309.75" r="1.05" fill="#111"/>
<circle cx="355.1" cy="310.09" r="1.05" fill="#111"/>
<circle cx="352.1" cy="311.11" r="1.05" fill="#111"/>
<circle cx="354.1" cy="311.79" r="1.05" fill="#111"/>
<rect x="363.68" y="304.9" width="8.64" height="32" fill="#4a7dc6" stroke="#142850" stroke-width="1.15"/>
<line x1="368" y1="304.32" x2="368" y2="299.57" stroke="#222" stroke-width="0.8"/>
<line x1="365.8" y1="299.57" x2="370.2" y2="299.57" stroke="#222" stroke-width="0.8"/>
<circle cx="368" cy="296.18" r="1.05" fill="#111"/>
<circle cx="366.5" cy="302.96" r="1.05" fill="#111"/>
<circle cx="369.5" cy="304.32" r="1.05" fill="#111"/>
<circle cx="368" cy="307.04" r="1.05" fill="#111"/>
<rect x="378.38" y="316.1" width="8.94" height="20.8" fill="#f36a6a" stroke="#561818" stroke-width="1.15"/>
<line x1="382.85" y1="315.52" x2="382.85" y2="313.48" stroke="#222" stroke-width="0.8"/>
<line x1="380.65" y1="313.48" x2="385.05" y2="313.48" stroke="#222" stroke-width="0.8"/>
<circle cx="380.85" cy="312.46" r="1.05" fill="#111"/>
<circle cx="384.85" cy="313.14" r="1.05" fill="#111"/>
<circle cx="382.85" cy="316.54" r="1.05" fill="#111"/>
<circle cx="381.85" cy="317.89" r="1.05" fill="#111"/>
<circle cx="383.85" cy="319.93" r="1.05" fill="#111"/>
<path d="M369.2 277.6V274.8H385.3V277.6" fill="none" stroke="#222" stroke-width="1.0"/>
<text x="377.25" y="275.7" font-size="7.2" text-anchor="middle" fill="#222">*</text>
<line x1="335.1" y1="338.6" x2="358" y2="338.6" stroke="#7a7a88" stroke-width="1.5"/>
<text x="346.55" y="345.3" font-size="6.6" text-anchor="middle" fill="#161616">NT</text>
<line x1="364" y1="338.6" x2="387.6" y2="338.6" stroke="#7a7a88" stroke-width="1.5"/>
<text x="375.8" y="345.3" font-size="6.6" text-anchor="middle" fill="#161616">T</text>
<text x="358.2" y="265" font-size="6.8" text-anchor="middle" fill="#161616" textLength="39.4" lengthAdjust="spacingAndGlyphs">CD49a<tspan font-size="4.62" dy="-3.13">+</tspan><tspan dy="3.13"> ILC1</tspan></text>
<text transform="translate(314.72 309.3) rotate(-90)" x="0" y="0" font-size="7" text-anchor="middle" fill="#161616">% of NK1.1<tspan font-size="4.76" dy="-3.22">+</tspan><tspan dy="3.22"> TCRβ</tspan><tspan font-size="4.76" dy="-3.22">−</tspan></text>
<line x1="427.1" y1="282.2" x2="427.1" y2="337.35" stroke="#2a2a2a" stroke-width="0.9"/>
<line x1="425.3" y1="336.9" x2="427.1" y2="336.9" stroke="#2a2a2a" stroke-width="0.9"/>
<text x="424" y="339.28" font-size="6.6" text-anchor="end" fill="#1c1c1c">0</text>
<line x1="425.3" y1="323.32" x2="427.1" y2="323.32" stroke="#2a2a2a" stroke-width="0.9"/>
<text x="424" y="325.7" font-size="6.6" text-anchor="end" fill="#1c1c1c">20</text>
<line x1="425.3" y1="309.75" x2="427.1" y2="309.75" stroke="#2a2a2a" stroke-width="0.9"/>
<text x="424" y="312.13" font-size="6.6" text-anchor="end" fill="#1c1c1c">40</text>
<line x1="425.3" y1="296.18" x2="427.1" y2="296.18" stroke="#2a2a2a" stroke-width="0.9"/>
<text x="424" y="298.55" font-size="6.6" text-anchor="end" fill="#1c1c1c">60</text>
<line x1="425.3" y1="282.6" x2="427.1" y2="282.6" stroke="#2a2a2a" stroke-width="0.9"/>
<text x="424" y="284.98" font-size="6.6" text-anchor="end" fill="#1c1c1c">80</text>
<line x1="426.65" y1="336.9" x2="487.9" y2="336.9" stroke="#2a2a2a" stroke-width="0.9"/>
<rect x="430.78" y="306.39" width="8.64" height="30.51" fill="#4a7dc6" stroke="#142850" stroke-width="1.15"/>
<line x1="435.1" y1="305.81" x2="435.1" y2="303.1" stroke="#222" stroke-width="0.8"/>
<line x1="432.9" y1="303.1" x2="437.3" y2="303.1" stroke="#222" stroke-width="0.8"/>
<circle cx="435.1" cy="298.89" r="1.05" fill="#111"/>
<circle cx="434.1" cy="305" r="1.05" fill="#111"/>
<circle cx="436.1" cy="307.04" r="1.05" fill="#111"/>
<circle cx="435.1" cy="309.75" r="1.05" fill="#111"/>
<circle cx="435.1" cy="315.18" r="1.05" fill="#111"/>
<rect x="445.48" y="304.97" width="8.44" height="31.93" fill="#f36a6a" stroke="#561818" stroke-width="1.15"/>
<line x1="449.7" y1="304.39" x2="449.7" y2="302.35" stroke="#222" stroke-width="0.8"/>
<line x1="447.5" y1="302.35" x2="451.9" y2="302.35" stroke="#222" stroke-width="0.8"/>
<circle cx="449.7" cy="300.93" r="1.05" fill="#111"/>
<circle cx="448.2" cy="304.32" r="1.05" fill="#111"/>
<circle cx="451.2" cy="305.68" r="1.05" fill="#111"/>
<circle cx="449.7" cy="307.04" r="1.05" fill="#111"/>
<circle cx="449.7" cy="311.11" r="1.05" fill="#111"/>
<rect x="460.48" y="317.8" width="8.74" height="19.1" fill="#4a7dc6" stroke="#142850" stroke-width="1.15"/>
<line x1="464.85" y1="317.22" x2="464.85" y2="313.14" stroke="#222" stroke-width="0.8"/>
<line x1="462.65" y1="313.14" x2="467.05" y2="313.14" stroke="#222" stroke-width="0.8"/>
<circle cx="462.85" cy="311.79" r="1.05" fill="#111"/>
<circle cx="466.85" cy="312.46" r="1.05" fill="#111"/>
<circle cx="464.85" cy="316.54" r="1.05" fill="#111"/>
<circle cx="463.85" cy="319.93" r="1.05" fill="#111"/>
<circle cx="465.35" cy="321.97" r="1.05" fill="#111"/>
<rect x="475.68" y="304.97" width="8.64" height="31.93" fill="#f36a6a" stroke="#561818" stroke-width="1.15"/>
<line x1="480" y1="304.39" x2="480" y2="300.32" stroke="#222" stroke-width="0.8"/>
<line x1="477.8" y1="300.32" x2="482.2" y2="300.32" stroke="#222" stroke-width="0.8"/>
<circle cx="480" cy="289.39" r="1.05" fill="#111"/>
<circle cx="478.5" cy="302.96" r="1.05" fill="#111"/>
<circle cx="481.5" cy="306.36" r="1.05" fill="#111"/>
<circle cx="478" cy="309.75" r="1.05" fill="#111"/>
<circle cx="482" cy="310.43" r="1.05" fill="#111"/>
<path d="M466.6 277.6V274.8H479.4V277.6" fill="none" stroke="#222" stroke-width="1.0"/>
<text x="473" y="275.7" font-size="7.2" text-anchor="middle" fill="#222">*</text>
<line x1="430.5" y1="338.6" x2="454.5" y2="338.6" stroke="#7a7a88" stroke-width="1.5"/>
<text x="442.5" y="345.3" font-size="6.6" text-anchor="middle" fill="#161616">NT</text>
<line x1="459.5" y1="338.6" x2="484.5" y2="338.6" stroke="#7a7a88" stroke-width="1.5"/>
<text x="472" y="345.3" font-size="6.6" text-anchor="middle" fill="#161616">T</text>
<text x="456.5" y="265" font-size="6.8" text-anchor="middle" fill="#161616" textLength="36.5" lengthAdjust="spacingAndGlyphs">CD49b<tspan font-size="4.62" dy="-3.13">+</tspan><tspan dy="3.13"> NK</tspan></text>
<text transform="translate(411.02 309.3) rotate(-90)" x="0" y="0" font-size="7" text-anchor="middle" fill="#161616">% of NK1.1<tspan font-size="4.76" dy="-3.22">+</tspan><tspan dy="3.22"> TCRβ</tspan><tspan font-size="4.76" dy="-3.22">−</tspan></text>
<rect x="490.8" y="302" width="5.6" height="5.3" fill="#4a7cc8" stroke="#14254a" stroke-width="1.2"/>
<rect x="490.8" y="310.6" width="5.6" height="5.3" fill="#f07878" stroke="#4a1414" stroke-width="1.2"/>
<text x="499.2" y="307.01" font-size="6.2" text-anchor="start" fill="#444" font-style="italic">Il27ra<tspan font-size="4.22" dy="-2.85">+/−</tspan></text>
<text x="499.2" y="315.61" font-size="6.2" text-anchor="start" fill="#444" font-style="italic">Il27ra<tspan font-size="4.22" dy="-2.85">−/−</tspan></text>
<line x1="25.3" y1="384.1" x2="25.3" y2="438.15" stroke="#2a2a2a" stroke-width="0.9"/>
<line x1="23.5" y1="437.7" x2="25.3" y2="437.7" stroke="#2a2a2a" stroke-width="0.9"/>
<text x="21.3" y="439.86" font-size="6" text-anchor="end" fill="#1c1c1c">0</text>
<line x1="23.5" y1="427.06" x2="25.3" y2="427.06" stroke="#2a2a2a" stroke-width="0.9"/>
<text x="21.3" y="429.22" font-size="6" text-anchor="end" fill="#1c1c1c">2</text>
<line x1="23.5" y1="416.42" x2="25.3" y2="416.42" stroke="#2a2a2a" stroke-width="0.9"/>
<text x="21.3" y="418.58" font-size="6" text-anchor="end" fill="#1c1c1c">4</text>
<line x1="23.5" y1="405.78" x2="25.3" y2="405.78" stroke="#2a2a2a" stroke-width="0.9"/>
<text x="21.3" y="407.94" font-size="6" text-anchor="end" fill="#1c1c1c">6</text>
<line x1="23.5" y1="395.14" x2="25.3" y2="395.14" stroke="#2a2a2a" stroke-width="0.9"/>
<text x="21.3" y="397.3" font-size="6" text-anchor="end" fill="#1c1c1c">8</text>
<line x1="23.5" y1="384.5" x2="25.3" y2="384.5" stroke="#2a2a2a" stroke-width="0.9"/>
<text x="21.3" y="386.66" font-size="6" text-anchor="end" fill="#1c1c1c">10</text>
<line x1="24.85" y1="437.7" x2="79.5" y2="437.7" stroke="#2a2a2a" stroke-width="0.9"/>
<rect x="27.48" y="432.96" width="8.14" height="4.74" fill="#4a7dc6" stroke="#142850" stroke-width="1.15"/>
<line x1="31.55" y1="432.38" x2="31.55" y2="432.11" stroke="#222" stroke-width="0.8"/>
<line x1="29.35" y1="432.11" x2="33.75" y2="432.11" stroke="#222" stroke-width="0.8"/>
<circle cx="28.55" cy="432.38" r="1.05" fill="#111"/>
<circle cx="30.55" cy="432.38" r="1.05" fill="#111"/>
<circle cx="32.55" cy="432.38" r="1.05" fill="#111"/>
<circle cx="34.55" cy="432.38" r="1.05" fill="#111"/>
<rect x="40.58" y="422.85" width="8.04" height="14.85" fill="#f36a6a" stroke="#561818" stroke-width="1.15"/>
<line x1="44.6" y1="422.27" x2="44.6" y2="417.48" stroke="#222" stroke-width="0.8"/>
<line x1="42.4" y1="417.48" x2="46.8" y2="417.48" stroke="#222" stroke-width="0.8"/>
<circle cx="44.6" cy="402.59" r="1.05" fill="#111"/>
<circle cx="44.6" cy="404.72" r="1.05" fill="#111"/>
<circle cx="43.1" cy="421.74" r="1.05" fill="#111"/>
<circle cx="46.1" cy="424.4" r="1.05" fill="#111"/>
<circle cx="44.6" cy="428.12" r="1.05" fill="#111"/>
<circle cx="43.6" cy="432.38" r="1.05" fill="#111"/>
<circle cx="45.6" cy="435.57" r="1.05" fill="#111"/>
<rect x="54.48" y="436.15" width="7.24" height="1.55" fill="#4a7dc6" stroke="#142850" stroke-width="1.15"/>
<line x1="58.1" y1="435.57" x2="58.1" y2="434.51" stroke="#222" stroke-width="0.8"/>
<line x1="55.9" y1="434.51" x2="60.3" y2="434.51" stroke="#222" stroke-width="0.8"/>
<circle cx="55.6" cy="431.85" r="1.05" fill="#111"/>
<circle cx="60.1" cy="431.85" r="1.05" fill="#111"/>
<circle cx="58.1" cy="434.51" r="1.05" fill="#111"/>
<circle cx="56.1" cy="435.57" r="1.05" fill="#111"/>
<circle cx="60.1" cy="436.1" r="1.05" fill="#111"/>
<circle cx="58.1" cy="437.17" r="1.05" fill="#111"/>
<circle cx="61.1" cy="436.64" r="1.05" fill="#111"/>
<rect x="67.58" y="418.6" width="7.94" height="19.1" fill="#f36a6a" stroke="#561818" stroke-width="1.15"/>
<line x1="71.55" y1="418.02" x2="71.55" y2="412.7" stroke="#222" stroke-width="0.8"/>
<line x1="69.35" y1="412.7" x2="73.75" y2="412.7" stroke="#222" stroke-width="0.8"/>
<circle cx="70.05" cy="395.14" r="1.05" fill="#111"/>
<circle cx="73.05" cy="396.2" r="1.05" fill="#111"/>
<circle cx="71.55" cy="398.33" r="1.05" fill="#111"/>
<circle cx="74.05" cy="413.76" r="1.05" fill="#111"/>
<circle cx="70.55" cy="418.55" r="1.05" fill="#111"/>
<circle cx="72.55" cy="424.4" r="1.05" fill="#111"/>
<circle cx="70.05" cy="429.72" r="1.05" fill="#111"/>
<circle cx="72.55" cy="435.04" r="1.05" fill="#111"/>
<path d="M32.3 382V379.4H45.1V382" fill="none" stroke="#222" stroke-width="1.0"/>
<text x="38.7" y="380.3" font-size="7.2" text-anchor="middle" fill="#222">*</text>
<path d="M58 382V379.4H71V382" fill="none" stroke="#222" stroke-width="1.0"/>
<text x="64.5" y="380.3" font-size="7.2" text-anchor="middle" fill="#222">**</text>
<line x1="25.4" y1="439.1" x2="48.3" y2="439.1" stroke="#8a96a6" stroke-width="2"/>
<text x="36.85" y="446.5" font-size="6.6" text-anchor="middle" fill="#161616">NT</text>
<line x1="56" y1="439.1" x2="79.2" y2="439.1" stroke="#8a96a6" stroke-width="2"/>
<text x="67.6" y="446.5" font-size="6.6" text-anchor="middle" fill="#161616">T</text>
<text x="50.9" y="369.3" font-size="7.2" text-anchor="middle" fill="#161616" font-style="italic" textLength="18.7" lengthAdjust="spacingAndGlyphs">Cxcr6</text>
<text transform="translate(9.17 410.6) rotate(-90)" x="0" y="0" font-size="7.13" text-anchor="middle" fill="#161616">Fold change</text>
<line x1="111.9" y1="385.4" x2="111.9" y2="437.65" stroke="#2a2a2a" stroke-width="0.9"/>
<line x1="110.1" y1="437.2" x2="111.9" y2="437.2" stroke="#2a2a2a" stroke-width="0.9"/>
<text x="107.9" y="439.36" font-size="6" text-anchor="end" fill="#1c1c1c">0</text>
<line x1="110.1" y1="424.35" x2="111.9" y2="424.35" stroke="#2a2a2a" stroke-width="0.9"/>
<text x="107.9" y="426.51" font-size="6" text-anchor="end" fill="#1c1c1c">2</text>
<line x1="110.1" y1="411.5" x2="111.9" y2="411.5" stroke="#2a2a2a" stroke-width="0.9"/>
<text x="107.9" y="413.66" font-size="6" text-anchor="end" fill="#1c1c1c">4</text>
<line x1="110.1" y1="398.65" x2="111.9" y2="398.65" stroke="#2a2a2a" stroke-width="0.9"/>
<text x="107.9" y="400.81" font-size="6" text-anchor="end" fill="#1c1c1c">6</text>
<line x1="110.1" y1="385.8" x2="111.9" y2="385.8" stroke="#2a2a2a" stroke-width="0.9"/>
<text x="107.9" y="387.96" font-size="6" text-anchor="end" fill="#1c1c1c">8</text>
<line x1="111.45" y1="437.2" x2="165.5" y2="437.2" stroke="#2a2a2a" stroke-width="0.9"/>
<rect x="115.88" y="431.35" width="8.14" height="5.85" fill="#4a7dc6" stroke="#142850" stroke-width="1.15"/>
<line x1="119.95" y1="430.77" x2="119.95" y2="430.45" stroke="#222" stroke-width="0.8"/>
<line x1="117.75" y1="430.45" x2="122.15" y2="430.45" stroke="#222" stroke-width="0.8"/>
<circle cx="116.95" cy="430.77" r="1.05" fill="#111"/>
<circle cx="118.95" cy="430.77" r="1.05" fill="#111"/>
<circle cx="120.95" cy="430.77" r="1.05" fill="#111"/>
<circle cx="122.95" cy="430.77" r="1.05" fill="#111"/>
<rect x="129.68" y="424.93" width="7.74" height="12.27" fill="#f36a6a" stroke="#561818" stroke-width="1.15"/>
<line x1="133.55" y1="424.35" x2="133.55" y2="413.43" stroke="#222" stroke-width="0.8"/>
<line x1="131.35" y1="413.43" x2="135.75" y2="413.43" stroke="#222" stroke-width="0.8"/>
<circle cx="133.55" cy="403.15" r="1.05" fill="#111"/>
<circle cx="133.55" cy="410.86" r="1.05" fill="#111"/>
<circle cx="132.05" cy="412.79" r="1.05" fill="#111"/>
<circle cx="130.55" cy="420.5" r="1.05" fill="#111"/>
<circle cx="135.05" cy="414.71" r="1.05" fill="#111"/>
<circle cx="133.55" cy="424.35" r="1.05" fill="#111"/>
<circle cx="132.05" cy="427.56" r="1.05" fill="#111"/>
<circle cx="134.55" cy="430.77" r="1.05" fill="#111"/>
<circle cx="133.55" cy="433.99" r="1.05" fill="#111"/>
<rect x="143.28" y="434.57" width="7.64" height="2.63" fill="#4a7dc6" stroke="#142850" stroke-width="1.15"/>
<line x1="147.1" y1="433.99" x2="147.1" y2="432.7" stroke="#222" stroke-width="0.8"/>
<line x1="144.9" y1="432.7" x2="149.3" y2="432.7" stroke="#222" stroke-width="0.8"/>
<circle cx="145.1" cy="429.49" r="1.05" fill="#111"/>
<circle cx="147.1" cy="433.34" r="1.05" fill="#111"/>
<circle cx="149.1" cy="434.63" r="1.05" fill="#111"/>
<circle cx="145.1" cy="435.27" r="1.05" fill="#111"/>
<circle cx="148.1" cy="435.91" r="1.05" fill="#111"/>
<circle cx="149.6" cy="436.56" r="1.05" fill="#111"/>
<rect x="157.08" y="425.25" width="7.74" height="11.95" fill="#f36a6a" stroke="#561818" stroke-width="1.15"/>
<line x1="160.95" y1="424.67" x2="160.95" y2="413.43" stroke="#777" stroke-width="0.8"/>
<line x1="158.75" y1="413.43" x2="163.15" y2="413.43" stroke="#777" stroke-width="0.8"/>
<circle cx="162.95" cy="398.65" r="1.05" fill="#111"/>
<circle cx="159.95" cy="410.86" r="1.05" fill="#111"/>
<circle cx="162.45" cy="412.79" r="1.05" fill="#111"/>
<circle cx="160.95" cy="424.35" r="1.05" fill="#111"/>
<circle cx="159.45" cy="427.56" r="1.05" fill="#111"/>
<circle cx="161.95" cy="430.77" r="1.05" fill="#111"/>
<circle cx="160.95" cy="433.99" r="1.05" fill="#111"/>
<path d="M121.2 381.8V379H133.8V381.8" fill="none" stroke="#222" stroke-width="1.0"/>
<text x="127.5" y="379.9" font-size="7.2" text-anchor="middle" fill="#222">*</text>
<path d="M147.3 381.8V379H159.9V381.8" fill="none" stroke="#222" stroke-width="1.0"/>
<text x="153.6" y="379.9" font-size="7.2" text-anchor="middle" fill="#222">**</text>
<line x1="112" y1="438.8" x2="138.5" y2="438.8" stroke="#666" stroke-width="1.3"/>
<text x="125.25" y="446.3" font-size="6.6" text-anchor="middle" fill="#161616">NT</text>
<line x1="141" y1="438.8" x2="166" y2="438.8" stroke="#666" stroke-width="1.3"/>
<text x="153.5" y="446.3" font-size="6.6" text-anchor="middle" fill="#161616">T</text>
<text x="139.8" y="368.8" font-size="7.2" text-anchor="middle" fill="#161616" font-style="italic" textLength="19.3" lengthAdjust="spacingAndGlyphs">Gzmb</text>
<text transform="translate(99.27 411) rotate(-90)" x="0" y="0" font-size="7.13" text-anchor="middle" fill="#161616">Fold change</text>
<rect x="170.1" y="406.8" width="5.6" height="5.3" fill="#4a7cc8" stroke="#14254a" stroke-width="1.2"/>
<rect x="170.1" y="415.1" width="5.6" height="5.3" fill="#f07878" stroke="#4a1414" stroke-width="1.2"/>
<text x="178.5" y="411.81" font-size="6.2" text-anchor="start" fill="#3c3c3c" font-style="italic">Il27ra<tspan font-size="4.22" dy="-2.85">+/−</tspan></text>
<text x="178.5" y="420.11" font-size="6.2" text-anchor="start" fill="#3c3c3c" font-style="italic">Il27ra<tspan font-size="4.22" dy="-2.85">−/−</tspan></text>
<line x1="237.9" y1="385.4" x2="237.9" y2="438.15" stroke="#2a2a2a" stroke-width="0.9"/>
<line x1="236.1" y1="437.7" x2="237.9" y2="437.7" stroke="#2a2a2a" stroke-width="0.9"/>
<text x="234.9" y="440" font-size="6.4" text-anchor="end" fill="#1c1c1c">0</text>
<line x1="236.1" y1="420.4" x2="237.9" y2="420.4" stroke="#2a2a2a" stroke-width="0.9"/>
<text x="234.9" y="422.7" font-size="6.4" text-anchor="end" fill="#1c1c1c">1</text>
<line x1="236.1" y1="403.1" x2="237.9" y2="403.1" stroke="#2a2a2a" stroke-width="0.9"/>
<text x="234.9" y="405.4" font-size="6.4" text-anchor="end" fill="#1c1c1c">2</text>
<line x1="236.1" y1="385.8" x2="237.9" y2="385.8" stroke="#2a2a2a" stroke-width="0.9"/>
<text x="234.9" y="388.1" font-size="6.4" text-anchor="end" fill="#1c1c1c">3</text>
<line x1="237.45" y1="437.7" x2="291" y2="437.7" stroke="#2a2a2a" stroke-width="0.9"/>
<rect x="240.18" y="420.98" width="7.84" height="16.72" fill="#4a7dc6" stroke="#142850" stroke-width="1.15"/>
<line x1="239.8" y1="420.6" x2="248.4" y2="420.6" stroke="#111" stroke-width="1.2"/>
<rect x="253.68" y="430.84" width="7.84" height="6.86" fill="#f36a6a" stroke="#561818" stroke-width="1.15"/>
<line x1="257.6" y1="430.26" x2="257.6" y2="429.05" stroke="#222" stroke-width="0.8"/>
<line x1="255.4" y1="429.05" x2="259.8" y2="429.05" stroke="#222" stroke-width="0.8"/>
<circle cx="257.6" cy="426.97" r="1.05" fill="#111"/>
<circle cx="255.6" cy="429.05" r="1.05" fill="#111"/>
<circle cx="259.6" cy="429.4" r="1.05" fill="#111"/>
<circle cx="256.6" cy="431.13" r="1.05" fill="#111"/>
<circle cx="258.6" cy="432.51" r="1.05" fill="#111"/>
<rect x="267.48" y="426.34" width="8.04" height="11.36" fill="#4a7dc6" stroke="#142850" stroke-width="1.15"/>
<line x1="271.5" y1="425.76" x2="271.5" y2="424.55" stroke="#222" stroke-width="0.8"/>
<line x1="269.3" y1="424.55" x2="273.7" y2="424.55" stroke="#222" stroke-width="0.8"/>
<circle cx="269" cy="424.21" r="1.05" fill="#111"/>
<circle cx="271.5" cy="424.21" r="1.05" fill="#111"/>
<circle cx="274" cy="424.73" r="1.05" fill="#111"/>
<circle cx="271.5" cy="428.19" r="1.05" fill="#111"/>
<circle cx="270.5" cy="430.78" r="1.05" fill="#111"/>
<circle cx="272.5" cy="432.51" r="1.05" fill="#111"/>
<rect x="281.28" y="405.76" width="8.04" height="31.94" fill="#f36a6a" stroke="#561818" stroke-width="1.15"/>
<line x1="285.3" y1="405.18" x2="285.3" y2="399.47" stroke="#222" stroke-width="0.8"/>
<line x1="283.1" y1="399.47" x2="287.5" y2="399.47" stroke="#222" stroke-width="0.8"/>
<circle cx="283.3" cy="391.86" r="1.05" fill="#111"/>
<circle cx="287.3" cy="391.86" r="1.05" fill="#111"/>
<circle cx="285.3" cy="396.18" r="1.05" fill="#111"/>
<circle cx="285.3" cy="408.98" r="1.05" fill="#111"/>
<circle cx="285.3" cy="415.9" r="1.05" fill="#111"/>
<circle cx="285.3" cy="422.13" r="1.05" fill="#111"/>
<path d="M256 381.3V378.4H284.2V381.3" fill="none" stroke="#222" stroke-width="1.0"/>
<text x="270.1" y="379.3" font-size="7.2" text-anchor="middle" fill="#222">***</text>
<path d="M272.5 388.7V386.1H284.2V388.7" fill="none" stroke="#222" stroke-width="1.0"/>
<text x="278.35" y="387" font-size="7.2" text-anchor="middle" fill="#222">**</text>
<line x1="238.7" y1="439.7" x2="261.6" y2="439.7" stroke="#444" stroke-width="1.2"/>
<text x="250.15" y="446.5" font-size="6.6" text-anchor="middle" fill="#161616">NT</text>
<line x1="268.4" y1="439.7" x2="291.9" y2="439.7" stroke="#444" stroke-width="1.2"/>
<text x="280.15" y="446.5" font-size="6.6" text-anchor="middle" fill="#161616">T</text>
<text x="263.9" y="368.8" font-size="7.2" text-anchor="middle" fill="#161616" font-style="italic" textLength="18.3" lengthAdjust="spacingAndGlyphs">Raet1</text>
<text transform="translate(223.46 411.8) rotate(-90)" x="0" y="0" font-size="7.1" text-anchor="middle" fill="#161616">Fold change</text>
<line x1="331.3" y1="385.4" x2="331.3" y2="437.65" stroke="#2a2a2a" stroke-width="0.9"/>
<line x1="329.5" y1="437.2" x2="331.3" y2="437.2" stroke="#2a2a2a" stroke-width="0.9"/>
<text x="328.3" y="439.5" font-size="6.4" text-anchor="end" fill="#1c1c1c">0</text>
<line x1="329.5" y1="424.35" x2="331.3" y2="424.35" stroke="#2a2a2a" stroke-width="0.9"/>
<text x="328.3" y="426.65" font-size="6.4" text-anchor="end" fill="#1c1c1c">2</text>
<line x1="329.5" y1="411.5" x2="331.3" y2="411.5" stroke="#2a2a2a" stroke-width="0.9"/>
<text x="328.3" y="413.8" font-size="6.4" text-anchor="end" fill="#1c1c1c">4</text>
<line x1="329.5" y1="398.65" x2="331.3" y2="398.65" stroke="#2a2a2a" stroke-width="0.9"/>
<text x="328.3" y="400.95" font-size="6.4" text-anchor="end" fill="#1c1c1c">6</text>
<line x1="329.5" y1="385.8" x2="331.3" y2="385.8" stroke="#2a2a2a" stroke-width="0.9"/>
<text x="328.3" y="388.1" font-size="6.4" text-anchor="end" fill="#1c1c1c">8</text>
<line x1="330.85" y1="437.2" x2="385" y2="437.2" stroke="#2a2a2a" stroke-width="0.9"/>
<rect x="334.48" y="431.35" width="8.04" height="5.85" fill="#4a7dc6" stroke="#142850" stroke-width="1.15"/>
<line x1="334.1" y1="430.6" x2="342.9" y2="430.6" stroke="#111" stroke-width="1.1"/>
<rect x="347.78" y="430.39" width="8.04" height="6.81" fill="#f36a6a" stroke="#561818" stroke-width="1.15"/>
<line x1="351.8" y1="429.81" x2="351.8" y2="425.63" stroke="#222" stroke-width="0.8"/>
<line x1="349.6" y1="425.63" x2="354" y2="425.63" stroke="#222" stroke-width="0.8"/>
<circle cx="351.8" cy="413.43" r="1.05" fill="#111"/>
<circle cx="351.8" cy="423.06" r="1.05" fill="#111"/>
<circle cx="350.3" cy="430.77" r="1.05" fill="#111"/>
<circle cx="353.3" cy="433.99" r="1.05" fill="#111"/>
<circle cx="351.8" cy="435.27" r="1.05" fill="#111"/>
<rect x="361.68" y="434.89" width="7.44" height="2.31" fill="#4a7dc6" stroke="#142850" stroke-width="1.15"/>
<line x1="365.4" y1="434.31" x2="365.4" y2="431.42" stroke="#222" stroke-width="0.8"/>
<line x1="363.2" y1="431.42" x2="367.6" y2="431.42" stroke="#222" stroke-width="0.8"/>
<circle cx="365.4" cy="427.56" r="1.05" fill="#111"/>
<circle cx="365.4" cy="430.77" r="1.05" fill="#111"/>
<circle cx="363.9" cy="434.63" r="1.05" fill="#111"/>
<circle cx="366.9" cy="435.91" r="1.05" fill="#111"/>
<circle cx="365.4" cy="436.56" r="1.05" fill="#111"/>
<rect x="375.18" y="418.5" width="7.84" height="18.69" fill="#f36a6a" stroke="#561818" stroke-width="1.15"/>
<line x1="379.1" y1="417.93" x2="379.1" y2="412.79" stroke="#222" stroke-width="0.8"/>
<line x1="376.9" y1="412.79" x2="381.3" y2="412.79" stroke="#222" stroke-width="0.8"/>
<circle cx="379.1" cy="398.65" r="1.05" fill="#111"/>
<circle cx="379.1" cy="409.57" r="1.05" fill="#111"/>
<circle cx="377.6" cy="414.71" r="1.05" fill="#111"/>
<circle cx="380.6" cy="419.21" r="1.05" fill="#111"/>
<circle cx="379.1" cy="424.35" r="1.05" fill="#111"/>
<circle cx="378.1" cy="428.85" r="1.05" fill="#111"/>
<circle cx="380.1" cy="432.06" r="1.05" fill="#111"/>
<path d="M350.7 382.2V379.2H377.7V382.2" fill="none" stroke="#222" stroke-width="1.0"/>
<path d="M365 389.2V386.5H377.7V389.2" fill="none" stroke="#222" stroke-width="1.0"/>
<text x="371.35" y="387.4" font-size="7.2" text-anchor="middle" fill="#222">*</text>
<text x="365" y="377.1" font-size="6.0" text-anchor="middle" fill="#333"><tspan font-style="italic">P</tspan> = 0.0726</text>
<line x1="332" y1="439" x2="356.3" y2="439" stroke="#222" stroke-width="1.4"/>
<text x="344.15" y="446.5" font-size="6.6" text-anchor="middle" fill="#161616">NT</text>
<line x1="362.6" y1="439" x2="384.5" y2="439" stroke="#222" stroke-width="1.4"/>
<text x="373.55" y="446.5" font-size="6.6" text-anchor="middle" fill="#161616">T</text>
<text x="357.7" y="368.5" font-size="7.2" text-anchor="middle" fill="#161616" font-style="italic" textLength="17.3" lengthAdjust="spacingAndGlyphs">H60b</text>
<text transform="translate(318.26 411.8) rotate(-90)" x="0" y="0" font-size="7.1" text-anchor="middle" fill="#161616">Fold change</text>
<rect x="390.8" y="406.1" width="5.6" height="5.3" fill="#4a7cc8" stroke="#14254a" stroke-width="1.2"/>
<rect x="390.8" y="415.6" width="5.6" height="5.3" fill="#f07878" stroke="#4a1414" stroke-width="1.2"/>
<text x="399.2" y="411.11" font-size="6.2" text-anchor="start" fill="#3c3c3c" font-style="italic">Il27ra<tspan font-size="4.22" dy="-2.85">+/−</tspan></text>
<text x="399.2" y="420.61" font-size="6.2" text-anchor="start" fill="#3c3c3c" font-style="italic">Il27ra<tspan font-size="4.22" dy="-2.85">−/−</tspan></text>
<rect x="24.5" y="482.5" width="66" height="61" fill="none" stroke="#1a1a1a" stroke-width="1"/>
<path d="M24.9 539.5 C25.33 537.75 26.63 532.63 27.5 529 C28.37 525.37 29.45 519.82 30.1 517.7 C30.75 515.58 30.58 517.42 31.4 516.3 C32.22 515.18 33.87 512.78 35 511 C36.13 509.22 36.78 508.07 38.2 505.6 C39.62 503.13 42.03 498.97 43.5 496.2 C44.97 493.43 45.98 490.58 47 489 C48.02 487.42 48.72 486.63 49.6 486.7 C50.48 486.77 51.52 487.6 52.3 489.4 C53.08 491.2 53.63 493.9 54.3 497.5 C54.97 501.1 55.52 506.52 56.3 511 C57.08 515.48 57.98 520.15 59 524.4 C60.02 528.65 61.17 533.43 62.4 536.5 C63.63 539.57 65.73 541.75 66.4 542.8" fill="none" stroke="#2c5aa8" stroke-width="1.25" stroke-linejoin="round"/>
<path d="M24.9 534 C25.32 529.48 26.53 514.1 27.4 506.9 C28.27 499.7 29.1 494.17 30.1 490.8 C31.1 487.43 32.28 486.7 33.4 486.7 C34.52 486.7 35.57 488.55 36.8 490.8 C38.03 493.05 39.33 497.07 40.8 500.2 C42.27 503.33 43.8 506.23 45.6 509.6 C47.4 512.97 49.7 516.82 51.6 520.4 C53.5 523.98 55.2 527.73 57 531.1 C58.8 534.47 60.98 538.63 62.4 540.6 C63.82 542.57 64.98 542.52 65.5 542.9" fill="none" stroke="#e0505a" stroke-width="1.25" stroke-linejoin="round"/>
<text x="59.6" y="497.2" font-size="6" text-anchor="start" fill="#2c5aa8" font-style="italic">Il27ra<tspan font-size="4.08" dy="-2.76">+/−</tspan></text>
<text x="59.6" y="503.2" font-size="6" text-anchor="start" fill="#e0505a" font-style="italic">Il27ra<tspan font-size="4.08" dy="-2.76">−/−</tspan></text>
<text x="57.5" y="478.6" font-size="6.8" text-anchor="middle" fill="#161616" textLength="35.5" lengthAdjust="spacingAndGlyphs">Tumor cells</text>
<text x="32.3" y="553" font-size="6.6" text-anchor="middle" fill="#2a2a2a">0</text>
<text x="49.2" y="553" font-size="6.6" text-anchor="middle" fill="#2a2a2a">10<tspan font-size="4.49" dy="-3.04">3</tspan></text>
<text x="66.7" y="553" font-size="6.6" text-anchor="middle" fill="#2a2a2a">10<tspan font-size="4.49" dy="-3.04">4</tspan></text>
<text x="83.7" y="553" font-size="6.6" text-anchor="middle" fill="#2a2a2a">10<tspan font-size="4.49" dy="-3.04">5</tspan></text>
<line x1="32.3" y1="543.3" x2="32.3" y2="545" stroke="#222" stroke-width="0.7"/>
<line x1="49.2" y1="543.3" x2="49.2" y2="545" stroke="#222" stroke-width="0.7"/>
<line x1="66.7" y1="543.3" x2="66.7" y2="545" stroke="#222" stroke-width="0.7"/>
<line x1="83.7" y1="543.3" x2="83.7" y2="545" stroke="#222" stroke-width="0.7"/>
<text x="56.9" y="561.6" font-size="7.1" text-anchor="middle" fill="#161616" textLength="45.4" lengthAdjust="spacingAndGlyphs">MHC-I (H2-K<tspan font-size="4.83" dy="-3.27">b</tspan><tspan dy="3.27">)</tspan></text>
<line x1="124.2" y1="489.2" x2="124.2" y2="543.95" stroke="#2a2a2a" stroke-width="0.9"/>
<line x1="122.4" y1="543.5" x2="124.2" y2="543.5" stroke="#2a2a2a" stroke-width="0.9"/>
<text x="122.1" y="545.73" font-size="6.2" text-anchor="end" fill="#1c1c1c">0</text>
<line x1="122.4" y1="530.02" x2="124.2" y2="530.02" stroke="#2a2a2a" stroke-width="0.9"/>
<text x="122.1" y="532.26" font-size="6.2" text-anchor="end" fill="#1c1c1c">200</text>
<line x1="122.4" y1="516.55" x2="124.2" y2="516.55" stroke="#2a2a2a" stroke-width="0.9"/>
<text x="122.1" y="518.78" font-size="6.2" text-anchor="end" fill="#1c1c1c">400</text>
<line x1="122.4" y1="503.08" x2="124.2" y2="503.08" stroke="#2a2a2a" stroke-width="0.9"/>
<text x="122.1" y="505.31" font-size="6.2" text-anchor="end" fill="#1c1c1c">600</text>
<line x1="122.4" y1="489.6" x2="124.2" y2="489.6" stroke="#2a2a2a" stroke-width="0.9"/>
<text x="122.1" y="491.83" font-size="6.2" text-anchor="end" fill="#1c1c1c">800</text>
<line x1="123.75" y1="543.5" x2="152" y2="543.5" stroke="#2a2a2a" stroke-width="0.9"/>
<rect x="127.78" y="510.06" width="7.84" height="33.44" fill="#4a7dc6" stroke="#142850" stroke-width="1.15"/>
<line x1="131.7" y1="509.48" x2="131.7" y2="506.44" stroke="#222" stroke-width="0.8"/>
<line x1="129.5" y1="506.44" x2="133.9" y2="506.44" stroke="#222" stroke-width="0.8"/>
<circle cx="131.7" cy="501.73" r="1.05" fill="#111"/>
<circle cx="129.7" cy="506.44" r="1.05" fill="#111"/>
<circle cx="133.7" cy="508.47" r="1.05" fill="#111"/>
<circle cx="130.7" cy="511.83" r="1.05" fill="#111"/>
<circle cx="132.7" cy="513.86" r="1.05" fill="#111"/>
<rect x="141.78" y="522.86" width="7.64" height="20.64" fill="#f36a6a" stroke="#561818" stroke-width="1.15"/>
<line x1="145.6" y1="522.28" x2="145.6" y2="519.92" stroke="#222" stroke-width="0.8"/>
<line x1="143.4" y1="519.92" x2="147.8" y2="519.92" stroke="#222" stroke-width="0.8"/>
<circle cx="145.6" cy="513.86" r="1.05" fill="#111"/>
<circle cx="144.1" cy="520.59" r="1.05" fill="#111"/>
<circle cx="147.1" cy="521.94" r="1.05" fill="#111"/>
<circle cx="144.6" cy="524.3" r="1.05" fill="#111"/>
<circle cx="146.6" cy="525.31" r="1.05" fill="#111"/>
<path d="M131.5 498.2V495.8H144.9V498.2" fill="none" stroke="#222" stroke-width="1.0"/>
<text x="138.2" y="496.7" font-size="7.2" text-anchor="middle" fill="#222">*</text>
<text x="136.8" y="478.8" font-size="6.8" text-anchor="middle" fill="#161616" textLength="19.2" lengthAdjust="spacingAndGlyphs">MHC-I</text>
<text transform="translate(105.6 516.7) rotate(-90)" x="0" y="0" font-size="6.4" text-anchor="middle" fill="#161616">MFI</text>
<rect x="156.8" y="514.5" width="5.6" height="5.3" fill="#4a7cc8" stroke="#14254a" stroke-width="1.2"/>
<rect x="156.8" y="522.5" width="5.6" height="5.3" fill="#f07878" stroke="#4a1414" stroke-width="1.2"/>
<text x="165.2" y="519.51" font-size="6.2" text-anchor="start" fill="#3c3c3c" font-style="italic">Il27ra<tspan font-size="4.22" dy="-2.85">+/−</tspan></text>
<text x="165.2" y="527.51" font-size="6.2" text-anchor="start" fill="#3c3c3c" font-style="italic">Il27ra<tspan font-size="4.22" dy="-2.85">−/−</tspan></text>
<line x1="237" y1="489.7" x2="237" y2="543.65" stroke="#2a2a2a" stroke-width="0.9"/>
<line x1="235.2" y1="543.2" x2="237" y2="543.2" stroke="#2a2a2a" stroke-width="0.9"/>
<text x="234.4" y="545.43" font-size="6.2" text-anchor="end" fill="#1c1c1c">0.0</text>
<line x1="235.2" y1="525.5" x2="237" y2="525.5" stroke="#2a2a2a" stroke-width="0.9"/>
<text x="234.4" y="527.73" font-size="6.2" text-anchor="end" fill="#1c1c1c">0.5</text>
<line x1="235.2" y1="507.8" x2="237" y2="507.8" stroke="#2a2a2a" stroke-width="0.9"/>
<text x="234.4" y="510.03" font-size="6.2" text-anchor="end" fill="#1c1c1c">1.0</text>
<line x1="235.2" y1="490.1" x2="237" y2="490.1" stroke="#2a2a2a" stroke-width="0.9"/>
<text x="234.4" y="492.33" font-size="6.2" text-anchor="end" fill="#1c1c1c">1.5</text>
<line x1="236.55" y1="543.2" x2="265" y2="543.2" stroke="#2a2a2a" stroke-width="0.9"/>
<rect x="240.68" y="508.38" width="7.74" height="34.82" fill="#4a7dc6" stroke="#142850" stroke-width="1.15"/>
<line x1="240.3" y1="507.3" x2="248.8" y2="507.3" stroke="#111" stroke-width="1.3"/>
<rect x="255.08" y="534.93" width="7.44" height="8.27" fill="#f36a6a" stroke="#561818" stroke-width="1.15"/>
<line x1="258.8" y1="534.35" x2="258.8" y2="532.58" stroke="#222" stroke-width="0.8"/>
<line x1="256.6" y1="532.58" x2="261" y2="532.58" stroke="#222" stroke-width="0.8"/>
<circle cx="258.8" cy="528.33" r="1.05" fill="#111"/>
<circle cx="258.8" cy="530.46" r="1.05" fill="#111"/>
<circle cx="257.3" cy="532.58" r="1.05" fill="#111"/>
<circle cx="260.3" cy="535.41" r="1.05" fill="#111"/>
<circle cx="258.8" cy="538.95" r="1.05" fill="#111"/>
<circle cx="257.8" cy="540.37" r="1.05" fill="#111"/>
<path d="M243.3 498.7V495.8H256.2V498.7" fill="none" stroke="#222" stroke-width="1.0"/>
<text x="249.75" y="496.7" font-size="7.2" text-anchor="middle" fill="#222">***</text>
<text x="250.6" y="478.8" font-size="7.2" text-anchor="middle" fill="#161616" font-style="italic" textLength="13.9" lengthAdjust="spacingAndGlyphs">Tap1</text>
<text transform="translate(218.49 516.9) rotate(-90)" x="0" y="0" font-size="6.65" text-anchor="middle" fill="#161616">Fold change</text>
<rect x="267.2" y="514.9" width="5.6" height="5.3" fill="#4a7cc8" stroke="#14254a" stroke-width="1.2"/>
<rect x="267.2" y="524.1" width="5.6" height="5.3" fill="#f07878" stroke="#4a1414" stroke-width="1.2"/>
<text x="275.6" y="519.91" font-size="6.2" text-anchor="start" fill="#3c3c3c" font-style="italic">Il27ra<tspan font-size="4.22" dy="-2.85">+/−</tspan></text>
<text x="275.6" y="529.11" font-size="6.2" text-anchor="start" fill="#3c3c3c" font-style="italic">Il27ra<tspan font-size="4.22" dy="-2.85">−/−</tspan></text>
<text x="5" y="8.57" font-size="9.6" text-anchor="start" fill="#111" font-weight="bold" stroke="#111" stroke-width="0.22">A</text>
<text x="168.8" y="9.57" font-size="9.6" text-anchor="start" fill="#111" font-weight="bold" stroke="#111" stroke-width="0.22">B</text>
<text x="313.2" y="9.17" font-size="9.6" text-anchor="start" fill="#111" font-weight="bold" stroke="#111" stroke-width="0.22">C</text>
<text x="411.4" y="9.37" font-size="9.6" text-anchor="start" fill="#111" font-weight="bold" stroke="#111" stroke-width="0.22">D</text>
<text x="5.6" y="161.87" font-size="9.6" text-anchor="start" fill="#111" font-weight="bold" stroke="#111" stroke-width="0.22">E</text>
<text x="244.5" y="162.37" font-size="9.6" text-anchor="start" fill="#111" font-weight="bold" stroke="#111" stroke-width="0.22">F</text>
<text x="4.2" y="262.37" font-size="9.6" text-anchor="start" fill="#111" font-weight="bold" stroke="#111" stroke-width="0.22">G</text>
<text x="214.6" y="261.37" font-size="9.6" text-anchor="start" fill="#111" font-weight="bold" stroke="#111" stroke-width="0.22">H</text>
<text x="316" y="262.37" font-size="9.6" text-anchor="start" fill="#111" font-weight="bold" stroke="#111" stroke-width="0.22">I</text>
<text x="5.8" y="370.37" font-size="9.6" text-anchor="start" fill="#111" font-weight="bold" stroke="#111" stroke-width="0.22">J</text>
<text x="215.3" y="369.17" font-size="9.6" text-anchor="start" fill="#111" font-weight="bold" stroke="#111" stroke-width="0.22">K</text>
<text x="7" y="476.67" font-size="9.6" text-anchor="start" fill="#111" font-weight="bold" stroke="#111" stroke-width="0.22">L</text>
<text x="213.4" y="477.37" font-size="9.6" text-anchor="start" fill="#111" font-weight="bold" stroke="#111" stroke-width="0.22">M</text>
<text x="30.6" y="13.2" font-size="7" text-anchor="start" fill="#222" font-style="italic" textLength="60" lengthAdjust="spacingAndGlyphs">MUP-uPA<tspan font-size="4.76" dy="-3.22">+</tspan><tspan dy="3.22"> Il27ra</tspan><tspan font-size="4.76" dy="-3.22"> +/−</tspan></text>
<text x="97.8" y="13.2" font-size="7" text-anchor="start" fill="#222" font-style="italic" textLength="56.5" lengthAdjust="spacingAndGlyphs">MUP-uPA<tspan font-size="4.76" dy="-3.22">+</tspan><tspan dy="3.22"> Il27ra</tspan><tspan font-size="4.76" dy="-3.22"> −/−</tspan></text>
<text x="266.4" y="164.6" font-size="7" text-anchor="start" fill="#222" font-style="italic" textLength="58.3" lengthAdjust="spacingAndGlyphs">MUP-uPA<tspan font-size="4.76" dy="-3.22">+</tspan><tspan dy="3.22"> Il27ra</tspan><tspan font-size="4.76" dy="-3.22"> +/−</tspan></text>
<text x="332.7" y="164.6" font-size="7" text-anchor="start" fill="#222" font-style="italic" textLength="58.2" lengthAdjust="spacingAndGlyphs">MUP-uPA<tspan font-size="4.76" dy="-3.22">+</tspan><tspan dy="3.22"> Il27ra</tspan><tspan font-size="4.76" dy="-3.22"> −/−</tspan></text>
<text transform="translate(20.89 112) rotate(-90)" x="0" y="0" font-size="7.2" text-anchor="middle" fill="#161616">H&amp;E</text>
<text transform="translate(21.39 199.2) rotate(-90)" x="0" y="0" font-size="7.05" text-anchor="middle" fill="#161616">Van Gieson</text>
<text transform="translate(254.64 200.3) rotate(-90)" x="0" y="0" font-size="6.77" text-anchor="middle" fill="#161616">Trichrome</text>
</svg>
</body></html>
